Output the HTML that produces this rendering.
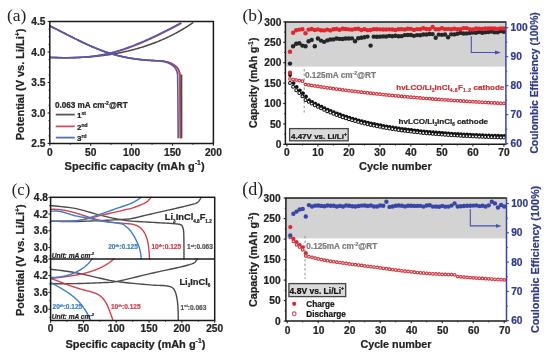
<!DOCTYPE html><html><head><meta charset="utf-8"><style>html,body{margin:0;padding:0;background:#fff;width:550px;height:356px;overflow:hidden}svg{display:block;filter:blur(0.3px)} text{paint-order:stroke}</style></head><body>
<svg width="550" height="356" viewBox="0 0 550 356">
<rect width="550" height="356" fill="#fff"/>
<text x="7.00" y="21.30" font-size="17.5" text-anchor="start" fill="#222" stroke="#222" stroke-width="0" font-weight="normal" font-family='"Liberation Serif", serif'>(a)</text>
<polyline points="49.81,57.34 50.56,57.37 51.30,57.41 52.05,57.44 52.80,57.47 53.55,57.51 54.30,57.53 55.05,57.56 55.80,57.59 56.55,57.61 57.30,57.63 58.05,57.65 58.80,57.67 59.55,57.69 60.30,57.70 61.05,57.72 61.81,57.73 62.56,57.74 63.31,57.75 64.06,57.75 64.81,57.76 65.57,57.76 66.32,57.76 67.07,57.76 67.82,57.76 68.57,57.76 69.33,57.75 70.08,57.74 70.83,57.73 71.59,57.72 72.34,57.71 73.09,57.69 73.84,57.68 74.60,57.66 75.35,57.64 76.10,57.62 76.86,57.59 77.61,57.57 78.36,57.54 79.12,57.51 79.87,57.48 80.62,57.44 81.37,57.41 82.13,57.37 82.88,57.33 83.63,57.29 84.38,57.25 85.14,57.20 85.89,57.15 86.64,57.11 87.39,57.05 88.14,57.00 88.90,56.95 89.65,56.89 90.40,56.83 91.15,56.77 91.90,56.70 92.65,56.64 93.40,56.57 94.15,56.50 94.90,56.43 95.65,56.36 96.40,56.28 97.15,56.20 97.90,56.12 98.65,56.04 99.40,55.96 100.14,55.87 100.89,55.78 101.64,55.69 102.39,55.60 103.13,55.51 103.88,55.41 104.63,55.31 105.37,55.21 106.12,55.11 106.86,55.00 107.61,54.89 108.35,54.78 109.10,54.67 109.84,54.55 110.58,54.44 111.33,54.32 112.07,54.20 112.81,54.07 113.55,53.95 114.29,53.82 115.03,53.69 115.77,53.56 116.51,53.42 117.25,53.28 117.99,53.14 118.73,53.00 119.46,52.86 120.20,52.71 120.94,52.56 121.67,52.41 122.41,52.26 123.14,52.10 123.88,51.94 124.61,51.78 125.34,51.62 126.07,51.45 126.81,51.28 127.54,51.11 128.27,50.94 129.00,50.77 129.73,50.59 130.45,50.41 131.18,50.22 131.91,50.04 132.64,49.85 133.36,49.66 134.09,49.47 134.81,49.27 135.53,49.08 136.26,48.88 136.98,48.67 137.70,48.47 138.42,48.26 139.14,48.05 139.86,47.84 140.58,47.62 141.29,47.40 142.01,47.18 142.73,46.96 143.44,46.73 144.15,46.50 144.87,46.27 145.58,46.04 146.29,45.80 147.00,45.56 147.71,45.32 148.42,45.08 149.13,44.83 149.83,44.58 150.54,44.33 151.25,44.08 151.95,43.82 152.65,43.56 153.36,43.30 154.06,43.03 154.76,42.76 155.46,42.49 156.15,42.22 156.85,41.94 157.55,41.66 158.24,41.38 158.94,41.10 159.63,40.81 160.32,40.52 161.01,40.23 161.70,39.93 162.39,39.64 163.08,39.33 163.77,39.03 164.45,38.72 165.14,38.42 165.82,38.10 166.50,37.79 167.19,37.47 167.87,37.15 168.55,36.83 169.22,36.50 169.90,36.17 170.58,35.84 171.25,35.51 171.92,35.17 172.59,34.83 173.27,34.49 173.93,34.14 174.60,33.79 175.27,33.44 175.94,33.08 176.60,32.73 177.26,32.37 177.93,32.00 178.59,31.64 179.25,31.27 179.90,30.89 180.56,30.52 181.22,30.14 181.87,29.76 182.52,29.38 183.17,28.99 183.82,28.60 184.47,28.21 185.12,27.81 185.77,27.41 186.41,27.01 187.05,26.60 187.69,26.20 188.33,25.78 188.97,25.37 189.61,24.95 190.25,24.53 190.88,24.11 191.51,23.68 192.15,23.25 192.78,22.82" fill="none" stroke="#4a4a4a" stroke-width="1.5" stroke-linejoin="round" stroke-linecap="round"/>
<polyline points="49.85,25.95 50.38,26.21 50.91,26.47 51.45,26.73 51.98,27.00 52.51,27.26 53.05,27.53 53.58,27.79 54.11,28.06 54.65,28.33 55.18,28.59 55.71,28.86 56.25,29.13 56.78,29.40 57.32,29.67 57.85,29.94 58.38,30.21 58.92,30.48 59.45,30.75 59.98,31.02 60.52,31.30 61.05,31.57 61.59,31.84 62.12,32.11 62.65,32.38 63.19,32.66 63.72,32.93 64.26,33.20 64.79,33.47 65.33,33.75 65.86,34.02 66.40,34.29 66.93,34.57 67.47,34.84 68.01,35.11 68.54,35.38 69.08,35.65 69.61,35.93 70.15,36.20 70.69,36.47 71.22,36.74 71.76,37.01 72.30,37.28 72.84,37.55 73.37,37.82 73.91,38.09 74.45,38.36 74.99,38.63 75.53,38.89 76.07,39.16 76.61,39.43 77.15,39.69 77.69,39.96 78.23,40.22 78.77,40.48 79.31,40.75 79.85,41.01 80.39,41.27 80.93,41.53 81.48,41.79 82.02,42.05 82.56,42.31 83.11,42.56 83.65,42.82 84.19,43.08 84.74,43.33 85.28,43.58 85.83,43.83 86.38,44.08 86.92,44.33 87.47,44.58 88.02,44.83 88.56,45.08 89.11,45.32 89.66,45.56 90.21,45.81 90.76,46.05 91.31,46.29 91.86,46.52 92.41,46.76 92.96,47.00 93.51,47.23 94.07,47.46 94.62,47.69 95.17,47.92 95.73,48.15 96.28,48.37 96.84,48.60 97.39,48.82 97.95,49.04 98.51,49.26 99.06,49.48 99.62,49.69 100.18,49.91 100.74,50.12 101.30,50.33 101.86,50.54 102.42,50.74 102.98,50.95 103.54,51.15 104.11,51.35 104.67,51.55 105.23,51.74 105.80,51.94 106.36,52.13 106.93,52.32 107.50,52.50 108.06,52.69 108.63,52.87 109.20,53.05 109.77,53.23 110.34,53.41 110.91,53.58 111.49,53.75 112.06,53.92 112.63,54.09 113.20,54.25 113.78,54.41 114.35,54.57 114.93,54.73 115.51,54.88 116.08,55.04 116.66,55.19 117.24,55.33 117.82,55.48 118.40,55.62 118.98,55.77 119.56,55.90 120.14,56.04 120.73,56.18 121.31,56.31 121.89,56.44 122.47,56.57 123.06,56.69 123.64,56.82 124.23,56.94 124.82,57.06 125.40,57.18 125.99,57.29 126.58,57.41 127.16,57.52 127.75,57.63 128.34,57.74 128.93,57.84 129.52,57.94 130.11,58.05 130.70,58.14 131.29,58.24 131.89,58.34 132.48,58.43 133.07,58.52 133.66,58.61 134.26,58.70 134.85,58.78 135.44,58.87 136.04,58.95 136.63,59.03 137.23,59.11 137.82,59.18 138.42,59.26 139.02,59.33 139.61,59.40 140.21,59.47 140.81,59.53 141.41,59.60 142.00,59.66 142.60,59.72 143.20,59.78 143.80,59.84 144.40,59.90 145.00,59.95 145.60,60.00 146.20,60.05 146.80,60.10 147.40,60.15 148.00,60.19 148.60,60.24 149.20,60.28 149.80,60.32 150.40,60.36 151.00,60.39 151.60,60.43 152.20,60.46 152.81,60.50 153.41,60.53 154.01,60.55 154.61,60.58 155.21,60.61 155.82,60.63 156.42,60.65 157.02,60.67 157.62,60.69 158.23,60.71 158.83,60.73 159.43,60.74 160.04,60.75 160.64,60.77 161.24,60.78 161.84,60.78 162.40,61.00 162.88,61.09 163.53,61.20 164.30,61.34 165.15,61.49 166.03,61.66 166.90,61.84 167.70,62.02 168.40,62.20 169.00,62.39 169.56,62.59 170.09,62.79 170.59,63.01 171.06,63.23 171.52,63.45 171.96,63.67 172.40,63.90 172.83,64.13 173.24,64.36 173.64,64.60 174.03,64.84 174.39,65.08 174.74,65.32 175.08,65.56 175.40,65.80 175.70,66.03 175.98,66.25 176.25,66.47 176.49,66.69 176.73,66.92 176.96,67.16 177.18,67.42 177.40,67.70 177.62,68.01 177.83,68.34 178.03,68.70 178.23,69.06 178.42,69.43 178.59,69.80 178.75,70.16 178.90,70.50 179.03,70.80 179.14,71.04 179.23,71.26 179.31,71.49 179.39,71.75 179.46,72.07 179.53,72.47 179.60,73.00 179.67,73.31 179.74,73.24 179.80,73.06 179.86,73.04 179.92,73.46 179.98,74.57 180.04,76.66 180.10,80.00 180.17,85.19 180.24,92.23 180.31,100.49 180.38,109.34 180.45,118.13 180.51,126.22 180.56,132.99 180.60,137.80" fill="none" stroke="#4a4a4a" stroke-width="1.5" stroke-linejoin="round" stroke-linecap="round"/>
<polyline points="181.60,75.30 181.60,137.80" fill="none" stroke="#4a4a4a" stroke-width="1.5" stroke-linejoin="round" stroke-linecap="round"/>
<polyline points="49.79,57.42 50.48,57.43 51.17,57.45 51.86,57.46 52.55,57.48 53.25,57.49 53.94,57.51 54.63,57.52 55.32,57.53 56.02,57.55 56.71,57.56 57.40,57.57 58.10,57.58 58.79,57.59 59.49,57.60 60.18,57.61 60.88,57.62 61.57,57.62 62.27,57.63 62.96,57.63 63.66,57.64 64.35,57.64 65.05,57.64 65.74,57.64 66.44,57.64 67.13,57.64 67.83,57.63 68.53,57.63 69.22,57.62 69.92,57.62 70.61,57.61 71.31,57.60 72.00,57.59 72.70,57.58 73.39,57.56 74.09,57.55 74.78,57.53 75.48,57.51 76.17,57.49 76.87,57.47 77.56,57.44 78.26,57.41 78.95,57.39 79.65,57.36 80.34,57.32 81.03,57.29 81.73,57.26 82.42,57.22 83.11,57.18 83.81,57.14 84.50,57.09 85.19,57.04 85.88,57.00 86.57,56.95 87.26,56.89 87.95,56.84 88.64,56.78 89.33,56.72 90.02,56.65 90.71,56.59 91.40,56.52 92.09,56.45 92.78,56.38 93.46,56.30 94.15,56.22 94.84,56.14 95.52,56.06 96.21,55.97 96.89,55.88 97.58,55.79 98.26,55.69 98.94,55.59 99.63,55.49 100.31,55.39 100.99,55.28 101.67,55.17 102.35,55.06 103.03,54.94 103.71,54.82 104.39,54.69 105.06,54.57 105.74,54.44 106.42,54.30 107.09,54.17 107.77,54.03 108.44,53.88 109.11,53.73 109.78,53.58 110.46,53.43 111.13,53.27 111.80,53.11 112.47,52.94 113.13,52.77 113.80,52.60 114.47,52.42 115.13,52.24 115.80,52.06 116.46,51.87 117.13,51.69 117.79,51.49 118.45,51.30 119.11,51.10 119.78,50.90 120.44,50.70 121.10,50.49 121.75,50.28 122.41,50.07 123.07,49.86 123.73,49.64 124.38,49.42 125.04,49.20 125.69,48.97 126.35,48.75 127.00,48.52 127.65,48.29 128.30,48.05 128.96,47.82 129.61,47.58 130.26,47.34 130.91,47.10 131.56,46.85 132.21,46.61 132.85,46.36 133.50,46.11 134.15,45.86 134.79,45.61 135.44,45.36 136.08,45.10 136.73,44.84 137.37,44.58 138.02,44.32 138.66,44.06 139.30,43.79 139.94,43.53 140.58,43.26 141.22,42.99 141.86,42.72 142.50,42.45 143.14,42.17 143.78,41.90 144.42,41.62 145.05,41.34 145.69,41.06 146.33,40.78 146.96,40.50 147.59,40.21 148.23,39.93 148.86,39.64 149.49,39.36 150.13,39.07 150.76,38.78 151.39,38.48 152.02,38.19 152.65,37.90 153.28,37.60 153.91,37.31 154.54,37.01 155.17,36.71 155.79,36.41 156.42,36.11 157.05,35.81 157.67,35.51 158.30,35.21 158.92,34.90 159.54,34.60 160.17,34.29 160.79,33.99 161.41,33.68 162.03,33.37 162.65,33.06 163.28,32.75 163.90,32.44 164.51,32.13 165.13,31.82 165.75,31.50 166.37,31.19 166.99,30.88 167.60,30.56 168.22,30.25 168.84,29.93 169.45,29.61 170.07,29.30 170.68,28.98 171.29,28.66 171.91,28.34 172.52,28.02 173.13,27.71 173.74,27.39 174.35,27.07 174.96,26.75 175.57,26.42 176.18,26.10 176.79,25.78 177.40,25.46 178.01,25.14 178.61,24.82 179.22,24.50 179.83,24.17 180.43,23.85 181.04,23.53" fill="none" stroke="#d8404a" stroke-width="1.5" stroke-linejoin="round" stroke-linecap="round"/>
<polyline points="49.84,25.95 50.38,26.21 50.91,26.47 51.44,26.73 51.97,27.00 52.50,27.26 53.04,27.52 53.57,27.79 54.10,28.05 54.63,28.32 55.16,28.58 55.70,28.85 56.23,29.12 56.76,29.39 57.29,29.65 57.82,29.92 58.36,30.19 58.89,30.46 59.42,30.73 59.95,31.00 60.49,31.27 61.02,31.54 61.55,31.81 62.08,32.09 62.62,32.36 63.15,32.63 63.68,32.90 64.21,33.17 64.75,33.44 65.28,33.72 65.81,33.99 66.35,34.26 66.88,34.53 67.41,34.80 67.95,35.07 68.48,35.34 69.02,35.62 69.55,35.89 70.09,36.16 70.62,36.43 71.16,36.70 71.69,36.97 72.23,37.24 72.76,37.51 73.30,37.78 73.84,38.04 74.37,38.31 74.91,38.58 75.45,38.85 75.98,39.11 76.52,39.38 77.06,39.64 77.60,39.91 78.14,40.17 78.67,40.43 79.21,40.70 79.75,40.96 80.29,41.22 80.83,41.48 81.37,41.74 81.91,42.00 82.45,42.25 83.00,42.51 83.54,42.77 84.08,43.02 84.62,43.27 85.17,43.53 85.71,43.78 86.25,44.03 86.80,44.28 87.34,44.53 87.89,44.77 88.43,45.02 88.98,45.26 89.53,45.51 90.07,45.75 90.62,45.99 91.17,46.23 91.72,46.47 92.27,46.70 92.81,46.94 93.36,47.17 93.92,47.41 94.47,47.64 95.02,47.87 95.57,48.09 96.12,48.32 96.67,48.54 97.23,48.77 97.78,48.99 98.34,49.21 98.89,49.42 99.45,49.64 100.00,49.85 100.56,50.07 101.12,50.28 101.68,50.48 102.24,50.69 102.80,50.90 103.36,51.10 103.92,51.30 104.48,51.50 105.04,51.69 105.60,51.89 106.17,52.08 106.73,52.27 107.29,52.46 107.86,52.64 108.43,52.83 108.99,53.01 109.56,53.19 110.13,53.36 110.70,53.54 111.27,53.71 111.84,53.88 112.41,54.05 112.98,54.21 113.55,54.37 114.12,54.53 114.70,54.69 115.27,54.85 115.85,55.00 116.42,55.15 117.00,55.30 117.58,55.45 118.15,55.59 118.73,55.73 119.31,55.87 119.89,56.01 120.47,56.15 121.05,56.28 121.63,56.41 122.21,56.54 122.79,56.67 123.38,56.79 123.96,56.92 124.54,57.04 125.13,57.16 125.71,57.27 126.30,57.39 126.88,57.50 127.47,57.61 128.06,57.72 128.64,57.83 129.23,57.93 129.82,58.03 130.41,58.13 131.00,58.23 131.59,58.33 132.18,58.42 132.77,58.51 133.36,58.60 133.95,58.69 134.54,58.78 135.13,58.86 135.73,58.94 136.32,59.02 136.91,59.10 137.51,59.18 138.10,59.25 138.69,59.33 139.29,59.40 139.88,59.47 140.48,59.53 141.07,59.60 141.67,59.66 142.26,59.72 142.86,59.78 143.46,59.84 144.05,59.90 144.65,59.95 145.25,60.00 145.85,60.05 146.44,60.10 147.04,60.15 147.64,60.20 148.24,60.24 148.84,60.28 149.44,60.32 150.04,60.36 150.64,60.40 151.24,60.43 151.84,60.47 152.43,60.50 153.03,60.53 153.64,60.56 154.24,60.59 154.84,60.61 155.44,60.63 156.04,60.66 156.64,60.68 157.24,60.70 157.84,60.71 158.44,60.73 159.04,60.74 159.64,60.76 160.24,60.77 160.85,60.78 161.45,60.78 162.00,61.00 162.48,61.09 163.12,61.20 163.90,61.34 164.75,61.49 165.63,61.66 166.50,61.84 167.30,62.02 168.00,62.20 168.60,62.39 169.16,62.59 169.69,62.79 170.19,63.01 170.66,63.23 171.12,63.45 171.56,63.67 172.00,63.90 172.43,64.13 172.84,64.36 173.24,64.60 173.62,64.84 173.99,65.08 174.34,65.32 174.68,65.56 175.00,65.80 175.30,66.03 175.58,66.25 175.85,66.47 176.09,66.69 176.33,66.92 176.56,67.16 176.78,67.42 177.00,67.70 177.22,68.01 177.43,68.34 177.63,68.70 177.83,69.06 178.02,69.43 178.19,69.80 178.35,70.16 178.50,70.50 178.63,70.80 178.74,71.04 178.83,71.26 178.91,71.49 178.99,71.75 179.06,72.07 179.13,72.47 179.20,73.00 179.27,73.31 179.34,73.24 179.40,73.06 179.46,73.04 179.52,73.46 179.58,74.57 179.64,76.66 179.70,80.00 179.77,85.19 179.84,92.23 179.91,100.49 179.98,109.34 180.05,118.13 180.11,126.22 180.16,132.99 180.20,137.80" fill="none" stroke="#d8404a" stroke-width="1.5" stroke-linejoin="round" stroke-linecap="round"/>
<polyline points="49.78,57.39 50.47,57.42 51.16,57.44 51.85,57.47 52.55,57.50 53.24,57.52 53.93,57.55 54.62,57.57 55.31,57.59 56.00,57.61 56.70,57.63 57.39,57.65 58.08,57.67 58.77,57.68 59.47,57.70 60.16,57.71 60.85,57.72 61.55,57.73 62.24,57.74 62.93,57.75 63.62,57.75 64.32,57.76 65.01,57.76 65.70,57.76 66.40,57.76 67.09,57.75 67.78,57.75 68.47,57.74 69.17,57.74 69.86,57.73 70.55,57.72 71.24,57.70 71.94,57.69 72.63,57.67 73.32,57.65 74.01,57.63 74.70,57.61 75.39,57.58 76.08,57.56 76.78,57.53 77.47,57.50 78.16,57.47 78.85,57.43 79.54,57.39 80.23,57.35 80.92,57.31 81.61,57.27 82.30,57.22 82.98,57.18 83.67,57.12 84.36,57.07 85.05,57.02 85.74,56.96 86.42,56.90 87.11,56.84 87.80,56.77 88.48,56.70 89.17,56.63 89.85,56.56 90.54,56.49 91.22,56.41 91.90,56.33 92.59,56.24 93.27,56.16 93.95,56.07 94.64,55.98 95.32,55.89 96.00,55.79 96.68,55.69 97.36,55.59 98.04,55.48 98.72,55.37 99.39,55.26 100.07,55.15 100.75,55.03 101.42,54.91 102.10,54.79 102.78,54.66 103.45,54.53 104.12,54.40 104.80,54.26 105.47,54.12 106.14,53.98 106.81,53.83 107.48,53.68 108.15,53.53 108.82,53.38 109.49,53.22 110.16,53.06 110.82,52.89 111.49,52.72 112.16,52.55 112.82,52.37 113.48,52.20 114.15,52.01 114.81,51.83 115.47,51.64 116.13,51.45 116.79,51.26 117.45,51.06 118.11,50.86 118.77,50.66 119.43,50.46 120.08,50.25 120.74,50.04 121.40,49.83 122.05,49.61 122.71,49.40 123.36,49.18 124.01,48.96 124.66,48.73 125.32,48.51 125.97,48.28 126.62,48.05 127.27,47.81 127.92,47.58 128.57,47.34 129.21,47.10 129.86,46.86 130.51,46.62 131.15,46.38 131.80,46.13 132.45,45.88 133.09,45.63 133.73,45.38 134.38,45.13 135.02,44.87 135.66,44.62 136.30,44.36 136.95,44.10 137.59,43.84 138.23,43.57 138.86,43.31 139.50,43.04 140.14,42.78 140.78,42.51 141.42,42.24 142.05,41.97 142.69,41.69 143.32,41.42 143.96,41.14 144.59,40.86 145.23,40.58 145.86,40.30 146.49,40.02 147.12,39.74 147.76,39.46 148.39,39.17 149.02,38.88 149.65,38.60 150.28,38.31 150.91,38.02 151.53,37.73 152.16,37.43 152.79,37.14 153.41,36.84 154.04,36.55 154.67,36.25 155.29,35.95 155.91,35.66 156.54,35.36 157.16,35.06 157.78,34.75 158.41,34.45 159.03,34.15 159.65,33.84 160.27,33.54 160.89,33.23 161.51,32.93 162.13,32.62 162.74,32.31 163.36,32.00 163.98,31.69 164.59,31.38 165.21,31.07 165.83,30.76 166.44,30.45 167.06,30.13 167.67,29.82 168.28,29.50 168.90,29.19 169.51,28.87 170.12,28.56 170.73,28.24 171.34,27.93 171.95,27.61 172.56,27.29 173.17,26.97 173.78,26.65 174.39,26.34 174.99,26.02 175.60,25.70 176.21,25.38 176.81,25.06 177.42,24.74 178.02,24.42 178.63,24.10 179.23,23.77 179.83,23.45 180.44,23.13" fill="none" stroke="#4a5cb8" stroke-width="1.6" stroke-linejoin="round" stroke-linecap="round"/>
<polyline points="49.84,25.97 50.36,26.22 50.89,26.48 51.41,26.73 51.93,26.99 52.46,27.24 52.98,27.50 53.51,27.76 54.03,28.01 54.56,28.27 55.08,28.53 55.60,28.79 56.13,29.05 56.65,29.31 57.18,29.58 57.70,29.84 58.22,30.10 58.75,30.36 59.27,30.63 59.80,30.89 60.32,31.16 60.84,31.42 61.37,31.69 61.89,31.95 62.42,32.22 62.94,32.48 63.47,32.75 63.99,33.02 64.51,33.28 65.04,33.55 65.56,33.82 66.09,34.08 66.61,34.35 67.14,34.62 67.66,34.89 68.19,35.15 68.71,35.42 69.24,35.69 69.77,35.95 70.29,36.22 70.82,36.49 71.34,36.75 71.87,37.02 72.40,37.28 72.92,37.55 73.45,37.81 73.98,38.08 74.51,38.34 75.03,38.61 75.56,38.87 76.09,39.13 76.62,39.39 77.15,39.66 77.68,39.92 78.20,40.18 78.73,40.44 79.26,40.70 79.79,40.96 80.32,41.21 80.85,41.47 81.39,41.73 81.92,41.98 82.45,42.24 82.98,42.49 83.51,42.75 84.05,43.00 84.58,43.25 85.11,43.50 85.65,43.75 86.18,44.00 86.71,44.25 87.25,44.49 87.78,44.74 88.32,44.98 88.86,45.22 89.39,45.47 89.93,45.71 90.47,45.95 91.01,46.18 91.54,46.42 92.08,46.66 92.62,46.89 93.16,47.12 93.70,47.35 94.24,47.58 94.78,47.81 95.33,48.04 95.87,48.27 96.41,48.49 96.95,48.71 97.50,48.93 98.04,49.15 98.59,49.37 99.13,49.58 99.68,49.80 100.23,50.01 100.77,50.22 101.32,50.43 101.87,50.64 102.42,50.84 102.97,51.04 103.52,51.24 104.07,51.44 104.62,51.64 105.17,51.84 105.73,52.03 106.28,52.22 106.83,52.41 107.39,52.59 107.94,52.78 108.50,52.96 109.06,53.14 109.61,53.32 110.17,53.50 110.73,53.67 111.29,53.84 111.85,54.01 112.41,54.18 112.97,54.34 113.54,54.50 114.10,54.66 114.66,54.82 115.23,54.98 115.79,55.13 116.36,55.28 116.92,55.43 117.49,55.58 118.06,55.72 118.63,55.86 119.19,56.00 119.76,56.14 120.33,56.28 120.90,56.41 121.47,56.54 122.05,56.67 122.62,56.80 123.19,56.92 123.76,57.05 124.34,57.17 124.91,57.29 125.49,57.40 126.06,57.52 126.64,57.63 127.21,57.74 127.79,57.85 128.37,57.95 128.94,58.06 129.52,58.16 130.10,58.26 130.68,58.36 131.26,58.46 131.84,58.55 132.42,58.64 133.00,58.73 133.58,58.82 134.16,58.91 134.74,58.99 135.33,59.07 135.91,59.15 136.49,59.23 137.08,59.30 137.66,59.38 138.24,59.45 138.83,59.52 139.41,59.59 140.00,59.66 140.58,59.72 141.17,59.78 141.76,59.84 142.34,59.90 142.93,59.96 143.52,60.01 144.10,60.06 144.69,60.12 145.28,60.16 145.87,60.21 146.46,60.26 147.05,60.30 147.64,60.34 148.22,60.38 148.81,60.42 149.40,60.45 149.99,60.49 150.58,60.52 151.17,60.55 151.77,60.58 152.36,60.61 152.95,60.63 153.54,60.65 154.13,60.68 154.72,60.70 155.31,60.71 155.90,60.73 156.50,60.74 157.09,60.76 157.68,60.77 158.27,60.78 158.87,60.78 159.46,60.79 160.00,61.00 160.48,61.09 161.12,61.20 161.90,61.34 162.75,61.49 163.63,61.66 164.50,61.84 165.30,62.02 166.00,62.20 166.60,62.39 167.16,62.59 167.69,62.79 168.19,63.01 168.66,63.23 169.12,63.45 169.56,63.67 170.00,63.90 170.43,64.13 170.84,64.36 171.24,64.60 171.62,64.84 171.99,65.08 172.34,65.32 172.68,65.56 173.00,65.80 173.30,66.03 173.58,66.25 173.85,66.47 174.09,66.69 174.33,66.92 174.56,67.16 174.78,67.42 175.00,67.70 175.22,68.01 175.43,68.34 175.63,68.70 175.83,69.06 176.02,69.43 176.19,69.80 176.35,70.16 176.50,70.50 176.63,70.80 176.74,71.04 176.83,71.26 176.91,71.49 176.99,71.75 177.06,72.07 177.13,72.47 177.20,73.00 177.27,73.31 177.34,73.24 177.40,73.06 177.46,73.04 177.52,73.46 177.58,74.57 177.64,76.66 177.70,80.00 177.77,85.19 177.84,92.23 177.91,100.49 177.98,109.34 178.05,118.13 178.11,126.22 178.16,132.99 178.20,137.80" fill="none" stroke="#4a5cb8" stroke-width="1.6" stroke-linejoin="round" stroke-linecap="round"/>
<rect x="49.8" y="21.5" width="163.60000000000002" height="122.0" fill="none" stroke="#1a1a1a" stroke-width="1.5"/>
<line x1="47.60" y1="143.50" x2="49.80" y2="143.50" stroke="#222" stroke-width="1.1"/>
<text x="45.40" y="147.10" font-size="10.2" text-anchor="end" fill="#222" stroke="#222" stroke-width="0.22" font-weight="bold" font-family='"Liberation Sans", sans-serif'>2.5</text>
<line x1="47.60" y1="113.00" x2="49.80" y2="113.00" stroke="#222" stroke-width="1.1"/>
<text x="45.40" y="116.60" font-size="10.2" text-anchor="end" fill="#222" stroke="#222" stroke-width="0.22" font-weight="bold" font-family='"Liberation Sans", sans-serif'>3.0</text>
<line x1="47.60" y1="82.50" x2="49.80" y2="82.50" stroke="#222" stroke-width="1.1"/>
<text x="45.40" y="86.10" font-size="10.2" text-anchor="end" fill="#222" stroke="#222" stroke-width="0.22" font-weight="bold" font-family='"Liberation Sans", sans-serif'>3.5</text>
<line x1="47.60" y1="52.00" x2="49.80" y2="52.00" stroke="#222" stroke-width="1.1"/>
<text x="45.40" y="55.60" font-size="10.2" text-anchor="end" fill="#222" stroke="#222" stroke-width="0.22" font-weight="bold" font-family='"Liberation Sans", sans-serif'>4.0</text>
<line x1="47.60" y1="21.50" x2="49.80" y2="21.50" stroke="#222" stroke-width="1.1"/>
<text x="45.40" y="25.10" font-size="10.2" text-anchor="end" fill="#222" stroke="#222" stroke-width="0.22" font-weight="bold" font-family='"Liberation Sans", sans-serif'>4.5</text>
<line x1="48.50" y1="135.88" x2="49.80" y2="135.88" stroke="#222" stroke-width="0.9"/>
<line x1="48.50" y1="128.25" x2="49.80" y2="128.25" stroke="#222" stroke-width="0.9"/>
<line x1="48.50" y1="120.62" x2="49.80" y2="120.62" stroke="#222" stroke-width="0.9"/>
<line x1="48.50" y1="105.38" x2="49.80" y2="105.38" stroke="#222" stroke-width="0.9"/>
<line x1="48.50" y1="97.75" x2="49.80" y2="97.75" stroke="#222" stroke-width="0.9"/>
<line x1="48.50" y1="90.12" x2="49.80" y2="90.12" stroke="#222" stroke-width="0.9"/>
<line x1="48.50" y1="74.88" x2="49.80" y2="74.88" stroke="#222" stroke-width="0.9"/>
<line x1="48.50" y1="67.25" x2="49.80" y2="67.25" stroke="#222" stroke-width="0.9"/>
<line x1="48.50" y1="59.62" x2="49.80" y2="59.62" stroke="#222" stroke-width="0.9"/>
<line x1="48.50" y1="44.38" x2="49.80" y2="44.38" stroke="#222" stroke-width="0.9"/>
<line x1="48.50" y1="36.75" x2="49.80" y2="36.75" stroke="#222" stroke-width="0.9"/>
<line x1="48.50" y1="29.12" x2="49.80" y2="29.12" stroke="#222" stroke-width="0.9"/>
<line x1="49.80" y1="143.50" x2="49.80" y2="145.70" stroke="#222" stroke-width="1.1"/>
<text x="49.80" y="155.60" font-size="10.2" text-anchor="middle" fill="#222" stroke="#222" stroke-width="0.22" font-weight="bold" font-family='"Liberation Sans", sans-serif'>0</text>
<line x1="90.70" y1="143.50" x2="90.70" y2="145.70" stroke="#222" stroke-width="1.1"/>
<text x="90.70" y="155.60" font-size="10.2" text-anchor="middle" fill="#222" stroke="#222" stroke-width="0.22" font-weight="bold" font-family='"Liberation Sans", sans-serif'>50</text>
<line x1="131.60" y1="143.50" x2="131.60" y2="145.70" stroke="#222" stroke-width="1.1"/>
<text x="131.60" y="155.60" font-size="10.2" text-anchor="middle" fill="#222" stroke="#222" stroke-width="0.22" font-weight="bold" font-family='"Liberation Sans", sans-serif'>100</text>
<line x1="172.50" y1="143.50" x2="172.50" y2="145.70" stroke="#222" stroke-width="1.1"/>
<text x="172.50" y="155.60" font-size="10.2" text-anchor="middle" fill="#222" stroke="#222" stroke-width="0.22" font-weight="bold" font-family='"Liberation Sans", sans-serif'>150</text>
<line x1="213.40" y1="143.50" x2="213.40" y2="145.70" stroke="#222" stroke-width="1.1"/>
<text x="213.40" y="155.60" font-size="10.2" text-anchor="middle" fill="#222" stroke="#222" stroke-width="0.22" font-weight="bold" font-family='"Liberation Sans", sans-serif'>200</text>
<line x1="70.25" y1="143.50" x2="70.25" y2="144.80" stroke="#222" stroke-width="0.9"/>
<line x1="111.15" y1="143.50" x2="111.15" y2="144.80" stroke="#222" stroke-width="0.9"/>
<line x1="152.05" y1="143.50" x2="152.05" y2="144.80" stroke="#222" stroke-width="0.9"/>
<line x1="192.95" y1="143.50" x2="192.95" y2="144.80" stroke="#222" stroke-width="0.9"/>
<text x="64.60" y="169.50" font-size="11.0" text-anchor="start" fill="#222" stroke="#222" stroke-width="0.22" font-weight="bold" font-family='"Liberation Sans", sans-serif'>Specific capacity (mAh g<tspan font-size="6.82" dy="-4.18">-1</tspan><tspan dy="4.18">&#8203;</tspan>)</text>
<text x="24.00" y="140.20" font-size="10.95" text-anchor="start" fill="#222" stroke="#222" stroke-width="0.22" font-weight="bold" font-family='"Liberation Sans", sans-serif' transform="rotate(-90 24.00 140.20)">Potential (V vs. Li/Li<tspan font-size="6.82" dy="-4.18">+</tspan><tspan dy="4.18">&#8203;</tspan>)</text>
<text x="55.00" y="108.00" font-size="8.15" text-anchor="start" fill="#222" stroke="#222" stroke-width="0.22" font-weight="bold" font-family='"Liberation Sans", sans-serif'>0.063 mA cm<tspan font-size="5.05" dy="-3.10">-2</tspan><tspan dy="3.10">&#8203;</tspan>@RT</text>
<line x1="55.80" y1="114.60" x2="74.70" y2="114.60" stroke="#555" stroke-width="1.8"/>
<line x1="55.80" y1="126.40" x2="74.70" y2="126.40" stroke="#d05060" stroke-width="1.8"/>
<line x1="55.80" y1="137.60" x2="74.70" y2="137.60" stroke="#5070b8" stroke-width="1.8"/>
<text x="77.00" y="117.80" font-size="8.0" text-anchor="start" fill="#222" stroke="#222" stroke-width="0.22" font-weight="bold" font-family='"Liberation Sans", sans-serif'>1<tspan font-size="4.96" dy="-3.04">st</tspan><tspan dy="3.04">&#8203;</tspan></text>
<text x="77.00" y="129.60" font-size="8.0" text-anchor="start" fill="#222" stroke="#222" stroke-width="0.22" font-weight="bold" font-family='"Liberation Sans", sans-serif'>2<tspan font-size="4.96" dy="-3.04">nd</tspan><tspan dy="3.04">&#8203;</tspan></text>
<text x="77.00" y="141.20" font-size="8.0" text-anchor="start" fill="#222" stroke="#222" stroke-width="0.22" font-weight="bold" font-family='"Liberation Sans", sans-serif'>3<tspan font-size="4.96" dy="-3.04">rd</tspan><tspan dy="3.04">&#8203;</tspan></text>
<text x="242.50" y="21.10" font-size="17.5" text-anchor="start" fill="#222" stroke="#222" stroke-width="0" font-weight="normal" font-family='"Liberation Serif", serif'>(b)</text>
<rect x="285.4" y="21.9" width="220.5" height="44.699999999999996" fill="#d3d3d3"/>
<circle cx="290.00" cy="63.60" r="2.2" fill="#262626"/>
<circle cx="293.10" cy="46.20" r="2.2" fill="#262626"/>
<circle cx="296.20" cy="43.80" r="2.2" fill="#262626"/>
<circle cx="299.30" cy="43.20" r="2.2" fill="#262626"/>
<circle cx="302.40" cy="45.60" r="2.2" fill="#262626"/>
<circle cx="305.50" cy="46.20" r="2.2" fill="#262626"/>
<circle cx="308.60" cy="41.32" r="2.2" fill="#262626"/>
<circle cx="311.70" cy="39.90" r="2.2" fill="#262626"/>
<circle cx="314.80" cy="46.20" r="2.2" fill="#262626"/>
<circle cx="317.90" cy="38.48" r="2.2" fill="#262626"/>
<circle cx="321.00" cy="40.59" r="2.2" fill="#262626"/>
<circle cx="324.10" cy="41.86" r="2.2" fill="#262626"/>
<circle cx="327.20" cy="40.40" r="2.2" fill="#262626"/>
<circle cx="330.30" cy="39.47" r="2.2" fill="#262626"/>
<circle cx="333.40" cy="39.41" r="2.2" fill="#262626"/>
<circle cx="336.50" cy="38.57" r="2.2" fill="#262626"/>
<circle cx="339.60" cy="38.89" r="2.2" fill="#262626"/>
<circle cx="342.70" cy="38.97" r="2.2" fill="#262626"/>
<circle cx="345.80" cy="38.43" r="2.2" fill="#262626"/>
<circle cx="348.90" cy="38.56" r="2.2" fill="#262626"/>
<circle cx="352.00" cy="38.34" r="2.2" fill="#262626"/>
<circle cx="355.10" cy="41.30" r="2.2" fill="#262626"/>
<circle cx="358.20" cy="38.18" r="2.2" fill="#262626"/>
<circle cx="361.30" cy="37.79" r="2.2" fill="#262626"/>
<circle cx="364.40" cy="37.19" r="2.2" fill="#262626"/>
<circle cx="367.50" cy="36.62" r="2.2" fill="#262626"/>
<circle cx="370.60" cy="45.60" r="2.2" fill="#262626"/>
<circle cx="373.70" cy="36.66" r="2.2" fill="#262626"/>
<circle cx="376.80" cy="36.71" r="2.2" fill="#262626"/>
<circle cx="379.90" cy="36.65" r="2.2" fill="#262626"/>
<circle cx="383.00" cy="36.39" r="2.2" fill="#262626"/>
<circle cx="386.10" cy="36.57" r="2.2" fill="#262626"/>
<circle cx="389.20" cy="35.87" r="2.2" fill="#262626"/>
<circle cx="392.30" cy="36.29" r="2.2" fill="#262626"/>
<circle cx="395.40" cy="35.80" r="2.2" fill="#262626"/>
<circle cx="398.50" cy="36.32" r="2.2" fill="#262626"/>
<circle cx="401.60" cy="36.15" r="2.2" fill="#262626"/>
<circle cx="404.70" cy="35.12" r="2.2" fill="#262626"/>
<circle cx="407.80" cy="35.06" r="2.2" fill="#262626"/>
<circle cx="410.90" cy="35.06" r="2.2" fill="#262626"/>
<circle cx="414.00" cy="35.86" r="2.2" fill="#262626"/>
<circle cx="417.10" cy="35.12" r="2.2" fill="#262626"/>
<circle cx="420.20" cy="35.25" r="2.2" fill="#262626"/>
<circle cx="423.30" cy="34.56" r="2.2" fill="#262626"/>
<circle cx="426.40" cy="34.51" r="2.2" fill="#262626"/>
<circle cx="429.50" cy="34.06" r="2.2" fill="#262626"/>
<circle cx="432.60" cy="34.12" r="2.2" fill="#262626"/>
<circle cx="435.70" cy="37.80" r="2.2" fill="#262626"/>
<circle cx="438.80" cy="34.60" r="2.2" fill="#262626"/>
<circle cx="441.90" cy="34.85" r="2.2" fill="#262626"/>
<circle cx="445.00" cy="34.44" r="2.2" fill="#262626"/>
<circle cx="448.10" cy="37.30" r="2.2" fill="#262626"/>
<circle cx="451.20" cy="34.37" r="2.2" fill="#262626"/>
<circle cx="454.30" cy="34.39" r="2.2" fill="#262626"/>
<circle cx="457.40" cy="33.77" r="2.2" fill="#262626"/>
<circle cx="460.50" cy="32.92" r="2.2" fill="#262626"/>
<circle cx="463.60" cy="33.51" r="2.2" fill="#262626"/>
<circle cx="466.70" cy="33.40" r="2.2" fill="#262626"/>
<circle cx="469.80" cy="33.09" r="2.2" fill="#262626"/>
<circle cx="472.90" cy="32.62" r="2.2" fill="#262626"/>
<circle cx="476.00" cy="32.72" r="2.2" fill="#262626"/>
<circle cx="479.10" cy="32.05" r="2.2" fill="#262626"/>
<circle cx="482.20" cy="32.73" r="2.2" fill="#262626"/>
<circle cx="485.30" cy="32.35" r="2.2" fill="#262626"/>
<circle cx="488.40" cy="31.94" r="2.2" fill="#262626"/>
<circle cx="491.50" cy="31.54" r="2.2" fill="#262626"/>
<circle cx="494.60" cy="32.34" r="2.2" fill="#262626"/>
<circle cx="497.70" cy="32.37" r="2.2" fill="#262626"/>
<circle cx="500.80" cy="31.15" r="2.2" fill="#262626"/>
<circle cx="503.90" cy="31.86" r="2.2" fill="#262626"/>
<circle cx="290.00" cy="51.80" r="2.2" fill="#e3262b"/>
<circle cx="293.10" cy="32.70" r="2.2" fill="#e3262b"/>
<circle cx="296.20" cy="30.20" r="2.2" fill="#e3262b"/>
<circle cx="299.30" cy="29.60" r="2.2" fill="#e3262b"/>
<circle cx="302.40" cy="29.20" r="2.2" fill="#e3262b"/>
<circle cx="305.50" cy="33.30" r="2.2" fill="#e3262b"/>
<circle cx="308.60" cy="29.60" r="2.2" fill="#e3262b"/>
<circle cx="311.70" cy="28.97" r="2.2" fill="#e3262b"/>
<circle cx="314.80" cy="30.03" r="2.2" fill="#e3262b"/>
<circle cx="317.90" cy="29.40" r="2.2" fill="#e3262b"/>
<circle cx="321.00" cy="30.26" r="2.2" fill="#e3262b"/>
<circle cx="324.10" cy="30.40" r="2.2" fill="#e3262b"/>
<circle cx="327.20" cy="29.62" r="2.2" fill="#e3262b"/>
<circle cx="330.30" cy="30.40" r="2.2" fill="#e3262b"/>
<circle cx="333.40" cy="29.28" r="2.2" fill="#e3262b"/>
<circle cx="336.50" cy="28.89" r="2.2" fill="#e3262b"/>
<circle cx="339.60" cy="29.71" r="2.2" fill="#e3262b"/>
<circle cx="342.70" cy="28.78" r="2.2" fill="#e3262b"/>
<circle cx="345.80" cy="29.03" r="2.2" fill="#e3262b"/>
<circle cx="348.90" cy="29.35" r="2.2" fill="#e3262b"/>
<circle cx="352.00" cy="29.66" r="2.2" fill="#e3262b"/>
<circle cx="355.10" cy="28.91" r="2.2" fill="#e3262b"/>
<circle cx="358.20" cy="28.71" r="2.2" fill="#e3262b"/>
<circle cx="361.30" cy="30.02" r="2.2" fill="#e3262b"/>
<circle cx="364.40" cy="29.11" r="2.2" fill="#e3262b"/>
<circle cx="367.50" cy="30.13" r="2.2" fill="#e3262b"/>
<circle cx="370.60" cy="30.01" r="2.2" fill="#e3262b"/>
<circle cx="373.70" cy="29.16" r="2.2" fill="#e3262b"/>
<circle cx="376.80" cy="29.28" r="2.2" fill="#e3262b"/>
<circle cx="379.90" cy="29.36" r="2.2" fill="#e3262b"/>
<circle cx="383.00" cy="29.54" r="2.2" fill="#e3262b"/>
<circle cx="386.10" cy="29.45" r="2.2" fill="#e3262b"/>
<circle cx="389.20" cy="29.37" r="2.2" fill="#e3262b"/>
<circle cx="392.30" cy="29.45" r="2.2" fill="#e3262b"/>
<circle cx="395.40" cy="29.95" r="2.2" fill="#e3262b"/>
<circle cx="398.50" cy="29.24" r="2.2" fill="#e3262b"/>
<circle cx="401.60" cy="29.10" r="2.2" fill="#e3262b"/>
<circle cx="404.70" cy="29.54" r="2.2" fill="#e3262b"/>
<circle cx="407.80" cy="28.75" r="2.2" fill="#e3262b"/>
<circle cx="410.90" cy="28.84" r="2.2" fill="#e3262b"/>
<circle cx="414.00" cy="29.90" r="2.2" fill="#e3262b"/>
<circle cx="417.10" cy="29.16" r="2.2" fill="#e3262b"/>
<circle cx="420.20" cy="29.18" r="2.2" fill="#e3262b"/>
<circle cx="423.30" cy="28.31" r="2.2" fill="#e3262b"/>
<circle cx="426.40" cy="28.94" r="2.2" fill="#e3262b"/>
<circle cx="429.50" cy="29.18" r="2.2" fill="#e3262b"/>
<circle cx="432.60" cy="26.90" r="2.2" fill="#e3262b"/>
<circle cx="435.70" cy="29.21" r="2.2" fill="#e3262b"/>
<circle cx="438.80" cy="29.21" r="2.2" fill="#e3262b"/>
<circle cx="441.90" cy="28.28" r="2.2" fill="#e3262b"/>
<circle cx="445.00" cy="29.17" r="2.2" fill="#e3262b"/>
<circle cx="448.10" cy="28.90" r="2.2" fill="#e3262b"/>
<circle cx="451.20" cy="29.22" r="2.2" fill="#e3262b"/>
<circle cx="454.30" cy="28.68" r="2.2" fill="#e3262b"/>
<circle cx="457.40" cy="29.23" r="2.2" fill="#e3262b"/>
<circle cx="460.50" cy="29.26" r="2.2" fill="#e3262b"/>
<circle cx="463.60" cy="28.10" r="2.2" fill="#e3262b"/>
<circle cx="466.70" cy="28.15" r="2.2" fill="#e3262b"/>
<circle cx="469.80" cy="29.11" r="2.2" fill="#e3262b"/>
<circle cx="472.90" cy="29.56" r="2.2" fill="#e3262b"/>
<circle cx="476.00" cy="28.40" r="2.2" fill="#e3262b"/>
<circle cx="479.10" cy="28.71" r="2.2" fill="#e3262b"/>
<circle cx="482.20" cy="28.91" r="2.2" fill="#e3262b"/>
<circle cx="485.30" cy="28.46" r="2.2" fill="#e3262b"/>
<circle cx="488.40" cy="28.51" r="2.2" fill="#e3262b"/>
<circle cx="491.50" cy="28.41" r="2.2" fill="#e3262b"/>
<circle cx="494.60" cy="28.49" r="2.2" fill="#e3262b"/>
<circle cx="497.70" cy="28.83" r="2.2" fill="#e3262b"/>
<circle cx="500.80" cy="28.34" r="2.2" fill="#e3262b"/>
<circle cx="503.90" cy="28.45" r="2.2" fill="#e3262b"/>
<line x1="304.20" y1="69.00" x2="304.20" y2="112.50" stroke="#8c8c8c" stroke-width="1.0" stroke-dasharray="2.4,2.2"/>
<circle cx="290.00" cy="75.0" r="1.9" fill="#111"/>
<circle cx="293.60" cy="83.10" r="1.9" fill="#111"/>
<circle cx="296.70" cy="86.97" r="1.9" fill="#111"/>
<circle cx="299.80" cy="90.40" r="1.9" fill="#111"/>
<circle cx="302.90" cy="93.21" r="1.9" fill="#111"/>
<circle cx="306.00" cy="96.52" r="1.9" fill="#111"/>
<circle cx="309.10" cy="100.23" r="1.9" fill="#111"/>
<circle cx="312.20" cy="102.01" r="1.9" fill="#111"/>
<circle cx="315.30" cy="103.67" r="1.9" fill="#111"/>
<circle cx="318.40" cy="105.26" r="1.9" fill="#111"/>
<circle cx="321.50" cy="106.77" r="1.9" fill="#111"/>
<circle cx="324.60" cy="108.22" r="1.9" fill="#111"/>
<circle cx="327.70" cy="109.59" r="1.9" fill="#111"/>
<circle cx="330.80" cy="110.90" r="1.9" fill="#111"/>
<circle cx="333.90" cy="112.16" r="1.9" fill="#111"/>
<circle cx="337.00" cy="113.35" r="1.9" fill="#111"/>
<circle cx="340.10" cy="114.49" r="1.9" fill="#111"/>
<circle cx="343.20" cy="115.57" r="1.9" fill="#111"/>
<circle cx="346.30" cy="116.60" r="1.9" fill="#111"/>
<circle cx="349.40" cy="117.59" r="1.9" fill="#111"/>
<circle cx="352.50" cy="118.53" r="1.9" fill="#111"/>
<circle cx="355.60" cy="119.43" r="1.9" fill="#111"/>
<circle cx="358.70" cy="120.28" r="1.9" fill="#111"/>
<circle cx="361.80" cy="121.10" r="1.9" fill="#111"/>
<circle cx="364.90" cy="121.87" r="1.9" fill="#111"/>
<circle cx="368.00" cy="122.61" r="1.9" fill="#111"/>
<circle cx="371.10" cy="123.32" r="1.9" fill="#111"/>
<circle cx="374.20" cy="123.99" r="1.9" fill="#111"/>
<circle cx="377.30" cy="124.64" r="1.9" fill="#111"/>
<circle cx="380.40" cy="125.25" r="1.9" fill="#111"/>
<circle cx="383.50" cy="125.83" r="1.9" fill="#111"/>
<circle cx="386.60" cy="126.39" r="1.9" fill="#111"/>
<circle cx="389.70" cy="126.92" r="1.9" fill="#111"/>
<circle cx="392.80" cy="127.43" r="1.9" fill="#111"/>
<circle cx="395.90" cy="127.91" r="1.9" fill="#111"/>
<circle cx="399.00" cy="128.37" r="1.9" fill="#111"/>
<circle cx="402.10" cy="128.81" r="1.9" fill="#111"/>
<circle cx="405.20" cy="129.23" r="1.9" fill="#111"/>
<circle cx="408.30" cy="129.62" r="1.9" fill="#111"/>
<circle cx="411.40" cy="130.00" r="1.9" fill="#111"/>
<circle cx="414.50" cy="130.37" r="1.9" fill="#111"/>
<circle cx="417.60" cy="130.71" r="1.9" fill="#111"/>
<circle cx="420.70" cy="131.04" r="1.9" fill="#111"/>
<circle cx="423.80" cy="131.36" r="1.9" fill="#111"/>
<circle cx="426.90" cy="131.66" r="1.9" fill="#111"/>
<circle cx="430.00" cy="131.94" r="1.9" fill="#111"/>
<circle cx="433.10" cy="132.22" r="1.9" fill="#111"/>
<circle cx="436.20" cy="132.48" r="1.9" fill="#111"/>
<circle cx="439.30" cy="132.72" r="1.9" fill="#111"/>
<circle cx="442.40" cy="132.96" r="1.9" fill="#111"/>
<circle cx="445.50" cy="133.18" r="1.9" fill="#111"/>
<circle cx="448.60" cy="133.40" r="1.9" fill="#111"/>
<circle cx="451.70" cy="133.60" r="1.9" fill="#111"/>
<circle cx="454.80" cy="133.80" r="1.9" fill="#111"/>
<circle cx="457.90" cy="133.99" r="1.9" fill="#111"/>
<circle cx="461.00" cy="134.16" r="1.9" fill="#111"/>
<circle cx="464.10" cy="134.33" r="1.9" fill="#111"/>
<circle cx="467.20" cy="134.49" r="1.9" fill="#111"/>
<circle cx="470.30" cy="134.65" r="1.9" fill="#111"/>
<circle cx="473.40" cy="134.79" r="1.9" fill="#111"/>
<circle cx="476.50" cy="134.93" r="1.9" fill="#111"/>
<circle cx="479.60" cy="135.07" r="1.9" fill="#111"/>
<circle cx="482.70" cy="135.20" r="1.9" fill="#111"/>
<circle cx="485.80" cy="135.32" r="1.9" fill="#111"/>
<circle cx="488.90" cy="135.43" r="1.9" fill="#111"/>
<circle cx="492.00" cy="135.54" r="1.9" fill="#111"/>
<circle cx="495.10" cy="135.65" r="1.9" fill="#111"/>
<circle cx="498.20" cy="135.75" r="1.9" fill="#111"/>
<circle cx="501.30" cy="135.84" r="1.9" fill="#111"/>
<circle cx="504.40" cy="135.93" r="1.9" fill="#111"/>
<circle cx="290.00" cy="82.90" r="1.45" fill="#fff" stroke="#111" stroke-width="1.05"/>
<circle cx="293.10" cy="86.77" r="1.45" fill="#fff" stroke="#111" stroke-width="1.05"/>
<circle cx="296.20" cy="90.20" r="1.45" fill="#fff" stroke="#111" stroke-width="1.05"/>
<circle cx="299.30" cy="93.01" r="1.45" fill="#fff" stroke="#111" stroke-width="1.05"/>
<circle cx="302.40" cy="96.32" r="1.45" fill="#fff" stroke="#111" stroke-width="1.05"/>
<circle cx="305.50" cy="100.03" r="1.45" fill="#fff" stroke="#111" stroke-width="1.05"/>
<circle cx="308.60" cy="101.86" r="1.45" fill="#fff" stroke="#111" stroke-width="1.05"/>
<circle cx="311.70" cy="103.61" r="1.45" fill="#fff" stroke="#111" stroke-width="1.05"/>
<circle cx="314.80" cy="105.27" r="1.45" fill="#fff" stroke="#111" stroke-width="1.05"/>
<circle cx="317.90" cy="106.86" r="1.45" fill="#fff" stroke="#111" stroke-width="1.05"/>
<circle cx="321.00" cy="108.37" r="1.45" fill="#fff" stroke="#111" stroke-width="1.05"/>
<circle cx="324.10" cy="109.82" r="1.45" fill="#fff" stroke="#111" stroke-width="1.05"/>
<circle cx="327.20" cy="111.19" r="1.45" fill="#fff" stroke="#111" stroke-width="1.05"/>
<circle cx="330.30" cy="112.50" r="1.45" fill="#fff" stroke="#111" stroke-width="1.05"/>
<circle cx="333.40" cy="113.76" r="1.45" fill="#fff" stroke="#111" stroke-width="1.05"/>
<circle cx="336.50" cy="114.95" r="1.45" fill="#fff" stroke="#111" stroke-width="1.05"/>
<circle cx="339.60" cy="116.09" r="1.45" fill="#fff" stroke="#111" stroke-width="1.05"/>
<circle cx="342.70" cy="117.17" r="1.45" fill="#fff" stroke="#111" stroke-width="1.05"/>
<circle cx="345.80" cy="118.20" r="1.45" fill="#fff" stroke="#111" stroke-width="1.05"/>
<circle cx="348.90" cy="119.19" r="1.45" fill="#fff" stroke="#111" stroke-width="1.05"/>
<circle cx="352.00" cy="120.13" r="1.45" fill="#fff" stroke="#111" stroke-width="1.05"/>
<circle cx="355.10" cy="121.03" r="1.45" fill="#fff" stroke="#111" stroke-width="1.05"/>
<circle cx="358.20" cy="121.88" r="1.45" fill="#fff" stroke="#111" stroke-width="1.05"/>
<circle cx="361.30" cy="122.70" r="1.45" fill="#fff" stroke="#111" stroke-width="1.05"/>
<circle cx="364.40" cy="123.47" r="1.45" fill="#fff" stroke="#111" stroke-width="1.05"/>
<circle cx="367.50" cy="124.21" r="1.45" fill="#fff" stroke="#111" stroke-width="1.05"/>
<circle cx="370.60" cy="124.92" r="1.45" fill="#fff" stroke="#111" stroke-width="1.05"/>
<circle cx="373.70" cy="125.59" r="1.45" fill="#fff" stroke="#111" stroke-width="1.05"/>
<circle cx="376.80" cy="126.24" r="1.45" fill="#fff" stroke="#111" stroke-width="1.05"/>
<circle cx="379.90" cy="126.85" r="1.45" fill="#fff" stroke="#111" stroke-width="1.05"/>
<circle cx="383.00" cy="127.43" r="1.45" fill="#fff" stroke="#111" stroke-width="1.05"/>
<circle cx="386.10" cy="127.99" r="1.45" fill="#fff" stroke="#111" stroke-width="1.05"/>
<circle cx="389.20" cy="128.52" r="1.45" fill="#fff" stroke="#111" stroke-width="1.05"/>
<circle cx="392.30" cy="129.03" r="1.45" fill="#fff" stroke="#111" stroke-width="1.05"/>
<circle cx="395.40" cy="129.51" r="1.45" fill="#fff" stroke="#111" stroke-width="1.05"/>
<circle cx="398.50" cy="129.97" r="1.45" fill="#fff" stroke="#111" stroke-width="1.05"/>
<circle cx="401.60" cy="130.41" r="1.45" fill="#fff" stroke="#111" stroke-width="1.05"/>
<circle cx="404.70" cy="130.83" r="1.45" fill="#fff" stroke="#111" stroke-width="1.05"/>
<circle cx="407.80" cy="131.22" r="1.45" fill="#fff" stroke="#111" stroke-width="1.05"/>
<circle cx="410.90" cy="131.60" r="1.45" fill="#fff" stroke="#111" stroke-width="1.05"/>
<circle cx="414.00" cy="131.97" r="1.45" fill="#fff" stroke="#111" stroke-width="1.05"/>
<circle cx="417.10" cy="132.31" r="1.45" fill="#fff" stroke="#111" stroke-width="1.05"/>
<circle cx="420.20" cy="132.64" r="1.45" fill="#fff" stroke="#111" stroke-width="1.05"/>
<circle cx="423.30" cy="132.96" r="1.45" fill="#fff" stroke="#111" stroke-width="1.05"/>
<circle cx="426.40" cy="133.26" r="1.45" fill="#fff" stroke="#111" stroke-width="1.05"/>
<circle cx="429.50" cy="133.54" r="1.45" fill="#fff" stroke="#111" stroke-width="1.05"/>
<circle cx="432.60" cy="133.82" r="1.45" fill="#fff" stroke="#111" stroke-width="1.05"/>
<circle cx="435.70" cy="134.08" r="1.45" fill="#fff" stroke="#111" stroke-width="1.05"/>
<circle cx="438.80" cy="134.32" r="1.45" fill="#fff" stroke="#111" stroke-width="1.05"/>
<circle cx="441.90" cy="134.56" r="1.45" fill="#fff" stroke="#111" stroke-width="1.05"/>
<circle cx="445.00" cy="134.78" r="1.45" fill="#fff" stroke="#111" stroke-width="1.05"/>
<circle cx="448.10" cy="135.00" r="1.45" fill="#fff" stroke="#111" stroke-width="1.05"/>
<circle cx="451.20" cy="135.20" r="1.45" fill="#fff" stroke="#111" stroke-width="1.05"/>
<circle cx="454.30" cy="135.40" r="1.45" fill="#fff" stroke="#111" stroke-width="1.05"/>
<circle cx="457.40" cy="135.59" r="1.45" fill="#fff" stroke="#111" stroke-width="1.05"/>
<circle cx="460.50" cy="135.76" r="1.45" fill="#fff" stroke="#111" stroke-width="1.05"/>
<circle cx="463.60" cy="135.93" r="1.45" fill="#fff" stroke="#111" stroke-width="1.05"/>
<circle cx="466.70" cy="136.09" r="1.45" fill="#fff" stroke="#111" stroke-width="1.05"/>
<circle cx="469.80" cy="136.25" r="1.45" fill="#fff" stroke="#111" stroke-width="1.05"/>
<circle cx="472.90" cy="136.39" r="1.45" fill="#fff" stroke="#111" stroke-width="1.05"/>
<circle cx="476.00" cy="136.53" r="1.45" fill="#fff" stroke="#111" stroke-width="1.05"/>
<circle cx="479.10" cy="136.67" r="1.45" fill="#fff" stroke="#111" stroke-width="1.05"/>
<circle cx="482.20" cy="136.80" r="1.45" fill="#fff" stroke="#111" stroke-width="1.05"/>
<circle cx="485.30" cy="136.92" r="1.45" fill="#fff" stroke="#111" stroke-width="1.05"/>
<circle cx="488.40" cy="137.03" r="1.45" fill="#fff" stroke="#111" stroke-width="1.05"/>
<circle cx="491.50" cy="137.14" r="1.45" fill="#fff" stroke="#111" stroke-width="1.05"/>
<circle cx="494.60" cy="137.25" r="1.45" fill="#fff" stroke="#111" stroke-width="1.05"/>
<circle cx="497.70" cy="137.35" r="1.45" fill="#fff" stroke="#111" stroke-width="1.05"/>
<circle cx="500.80" cy="137.44" r="1.45" fill="#fff" stroke="#111" stroke-width="1.05"/>
<circle cx="503.90" cy="137.53" r="1.45" fill="#fff" stroke="#111" stroke-width="1.05"/>
<circle cx="290.00" cy="72.7" r="2.2" fill="#e3262b"/>
<circle cx="293.10" cy="79.21" r="1.5" fill="#d4414b"/>
<circle cx="296.20" cy="79.70" r="1.5" fill="#d4414b"/>
<circle cx="299.30" cy="80.31" r="1.5" fill="#d4414b"/>
<circle cx="302.40" cy="80.88" r="1.5" fill="#d4414b"/>
<circle cx="305.50" cy="84.19" r="1.5" fill="#d4414b"/>
<circle cx="308.60" cy="84.68" r="1.5" fill="#d4414b"/>
<circle cx="311.70" cy="85.17" r="1.5" fill="#d4414b"/>
<circle cx="314.80" cy="85.65" r="1.5" fill="#d4414b"/>
<circle cx="317.90" cy="86.12" r="1.5" fill="#d4414b"/>
<circle cx="321.00" cy="86.58" r="1.5" fill="#d4414b"/>
<circle cx="324.10" cy="87.04" r="1.5" fill="#d4414b"/>
<circle cx="327.20" cy="87.48" r="1.5" fill="#d4414b"/>
<circle cx="330.30" cy="87.92" r="1.5" fill="#d4414b"/>
<circle cx="333.40" cy="88.35" r="1.5" fill="#d4414b"/>
<circle cx="336.50" cy="88.77" r="1.5" fill="#d4414b"/>
<circle cx="339.60" cy="89.19" r="1.5" fill="#d4414b"/>
<circle cx="342.70" cy="89.59" r="1.5" fill="#d4414b"/>
<circle cx="345.80" cy="89.99" r="1.5" fill="#d4414b"/>
<circle cx="348.90" cy="90.39" r="1.5" fill="#d4414b"/>
<circle cx="352.00" cy="90.77" r="1.5" fill="#d4414b"/>
<circle cx="355.10" cy="91.15" r="1.5" fill="#d4414b"/>
<circle cx="358.20" cy="91.52" r="1.5" fill="#d4414b"/>
<circle cx="361.30" cy="91.89" r="1.5" fill="#d4414b"/>
<circle cx="364.40" cy="92.24" r="1.5" fill="#d4414b"/>
<circle cx="367.50" cy="92.60" r="1.5" fill="#d4414b"/>
<circle cx="370.60" cy="92.94" r="1.5" fill="#d4414b"/>
<circle cx="373.70" cy="93.28" r="1.5" fill="#d4414b"/>
<circle cx="376.80" cy="93.61" r="1.5" fill="#d4414b"/>
<circle cx="379.90" cy="93.94" r="1.5" fill="#d4414b"/>
<circle cx="383.00" cy="94.26" r="1.5" fill="#d4414b"/>
<circle cx="386.10" cy="94.58" r="1.5" fill="#d4414b"/>
<circle cx="389.20" cy="94.89" r="1.5" fill="#d4414b"/>
<circle cx="392.30" cy="95.19" r="1.5" fill="#d4414b"/>
<circle cx="395.40" cy="95.49" r="1.5" fill="#d4414b"/>
<circle cx="398.50" cy="95.78" r="1.5" fill="#d4414b"/>
<circle cx="401.60" cy="96.07" r="1.5" fill="#d4414b"/>
<circle cx="404.70" cy="96.35" r="1.5" fill="#d4414b"/>
<circle cx="407.80" cy="96.63" r="1.5" fill="#d4414b"/>
<circle cx="410.90" cy="96.90" r="1.5" fill="#d4414b"/>
<circle cx="414.00" cy="97.17" r="1.5" fill="#d4414b"/>
<circle cx="417.10" cy="97.43" r="1.5" fill="#d4414b"/>
<circle cx="420.20" cy="97.69" r="1.5" fill="#d4414b"/>
<circle cx="423.30" cy="97.95" r="1.5" fill="#d4414b"/>
<circle cx="426.40" cy="98.20" r="1.5" fill="#d4414b"/>
<circle cx="429.50" cy="98.44" r="1.5" fill="#d4414b"/>
<circle cx="432.60" cy="98.68" r="1.5" fill="#d4414b"/>
<circle cx="435.70" cy="98.92" r="1.5" fill="#d4414b"/>
<circle cx="438.80" cy="99.15" r="1.5" fill="#d4414b"/>
<circle cx="441.90" cy="99.38" r="1.5" fill="#d4414b"/>
<circle cx="445.00" cy="99.60" r="1.5" fill="#d4414b"/>
<circle cx="448.10" cy="99.82" r="1.5" fill="#d4414b"/>
<circle cx="451.20" cy="100.03" r="1.5" fill="#d4414b"/>
<circle cx="454.30" cy="100.24" r="1.5" fill="#d4414b"/>
<circle cx="457.40" cy="100.45" r="1.5" fill="#d4414b"/>
<circle cx="460.50" cy="100.66" r="1.5" fill="#d4414b"/>
<circle cx="463.60" cy="100.86" r="1.5" fill="#d4414b"/>
<circle cx="466.70" cy="101.05" r="1.5" fill="#d4414b"/>
<circle cx="469.80" cy="101.25" r="1.5" fill="#d4414b"/>
<circle cx="472.90" cy="101.44" r="1.5" fill="#d4414b"/>
<circle cx="476.00" cy="101.62" r="1.5" fill="#d4414b"/>
<circle cx="479.10" cy="101.80" r="1.5" fill="#d4414b"/>
<circle cx="482.20" cy="101.98" r="1.5" fill="#d4414b"/>
<circle cx="485.30" cy="102.16" r="1.5" fill="#d4414b"/>
<circle cx="488.40" cy="102.33" r="1.5" fill="#d4414b"/>
<circle cx="491.50" cy="102.50" r="1.5" fill="#d4414b"/>
<circle cx="494.60" cy="102.67" r="1.5" fill="#d4414b"/>
<circle cx="497.70" cy="102.83" r="1.5" fill="#d4414b"/>
<circle cx="500.80" cy="103.00" r="1.5" fill="#d4414b"/>
<circle cx="503.90" cy="103.15" r="1.5" fill="#d4414b"/>
<circle cx="290.00" cy="78.90" r="1.3" fill="#fff" stroke="#d03c46" stroke-width="1.15"/>
<circle cx="293.10" cy="79.51" r="1.3" fill="#fff" stroke="#d03c46" stroke-width="1.15"/>
<circle cx="296.20" cy="80.00" r="1.3" fill="#fff" stroke="#d03c46" stroke-width="1.15"/>
<circle cx="299.30" cy="80.61" r="1.3" fill="#fff" stroke="#d03c46" stroke-width="1.15"/>
<circle cx="302.40" cy="81.18" r="1.3" fill="#fff" stroke="#d03c46" stroke-width="1.15"/>
<circle cx="305.50" cy="84.49" r="1.3" fill="#fff" stroke="#d03c46" stroke-width="1.15"/>
<circle cx="308.60" cy="84.98" r="1.3" fill="#fff" stroke="#d03c46" stroke-width="1.15"/>
<circle cx="311.70" cy="85.47" r="1.3" fill="#fff" stroke="#d03c46" stroke-width="1.15"/>
<circle cx="314.80" cy="85.95" r="1.3" fill="#fff" stroke="#d03c46" stroke-width="1.15"/>
<circle cx="317.90" cy="86.42" r="1.3" fill="#fff" stroke="#d03c46" stroke-width="1.15"/>
<circle cx="321.00" cy="86.88" r="1.3" fill="#fff" stroke="#d03c46" stroke-width="1.15"/>
<circle cx="324.10" cy="87.34" r="1.3" fill="#fff" stroke="#d03c46" stroke-width="1.15"/>
<circle cx="327.20" cy="87.78" r="1.3" fill="#fff" stroke="#d03c46" stroke-width="1.15"/>
<circle cx="330.30" cy="88.22" r="1.3" fill="#fff" stroke="#d03c46" stroke-width="1.15"/>
<circle cx="333.40" cy="88.65" r="1.3" fill="#fff" stroke="#d03c46" stroke-width="1.15"/>
<circle cx="336.50" cy="89.07" r="1.3" fill="#fff" stroke="#d03c46" stroke-width="1.15"/>
<circle cx="339.60" cy="89.49" r="1.3" fill="#fff" stroke="#d03c46" stroke-width="1.15"/>
<circle cx="342.70" cy="89.89" r="1.3" fill="#fff" stroke="#d03c46" stroke-width="1.15"/>
<circle cx="345.80" cy="90.29" r="1.3" fill="#fff" stroke="#d03c46" stroke-width="1.15"/>
<circle cx="348.90" cy="90.69" r="1.3" fill="#fff" stroke="#d03c46" stroke-width="1.15"/>
<circle cx="352.00" cy="91.07" r="1.3" fill="#fff" stroke="#d03c46" stroke-width="1.15"/>
<circle cx="355.10" cy="91.45" r="1.3" fill="#fff" stroke="#d03c46" stroke-width="1.15"/>
<circle cx="358.20" cy="91.82" r="1.3" fill="#fff" stroke="#d03c46" stroke-width="1.15"/>
<circle cx="361.30" cy="92.19" r="1.3" fill="#fff" stroke="#d03c46" stroke-width="1.15"/>
<circle cx="364.40" cy="92.54" r="1.3" fill="#fff" stroke="#d03c46" stroke-width="1.15"/>
<circle cx="367.50" cy="92.90" r="1.3" fill="#fff" stroke="#d03c46" stroke-width="1.15"/>
<circle cx="370.60" cy="93.24" r="1.3" fill="#fff" stroke="#d03c46" stroke-width="1.15"/>
<circle cx="373.70" cy="93.58" r="1.3" fill="#fff" stroke="#d03c46" stroke-width="1.15"/>
<circle cx="376.80" cy="93.91" r="1.3" fill="#fff" stroke="#d03c46" stroke-width="1.15"/>
<circle cx="379.90" cy="94.24" r="1.3" fill="#fff" stroke="#d03c46" stroke-width="1.15"/>
<circle cx="383.00" cy="94.56" r="1.3" fill="#fff" stroke="#d03c46" stroke-width="1.15"/>
<circle cx="386.10" cy="94.88" r="1.3" fill="#fff" stroke="#d03c46" stroke-width="1.15"/>
<circle cx="389.20" cy="95.19" r="1.3" fill="#fff" stroke="#d03c46" stroke-width="1.15"/>
<circle cx="392.30" cy="95.49" r="1.3" fill="#fff" stroke="#d03c46" stroke-width="1.15"/>
<circle cx="395.40" cy="95.79" r="1.3" fill="#fff" stroke="#d03c46" stroke-width="1.15"/>
<circle cx="398.50" cy="96.08" r="1.3" fill="#fff" stroke="#d03c46" stroke-width="1.15"/>
<circle cx="401.60" cy="96.37" r="1.3" fill="#fff" stroke="#d03c46" stroke-width="1.15"/>
<circle cx="404.70" cy="96.65" r="1.3" fill="#fff" stroke="#d03c46" stroke-width="1.15"/>
<circle cx="407.80" cy="96.93" r="1.3" fill="#fff" stroke="#d03c46" stroke-width="1.15"/>
<circle cx="410.90" cy="97.20" r="1.3" fill="#fff" stroke="#d03c46" stroke-width="1.15"/>
<circle cx="414.00" cy="97.47" r="1.3" fill="#fff" stroke="#d03c46" stroke-width="1.15"/>
<circle cx="417.10" cy="97.73" r="1.3" fill="#fff" stroke="#d03c46" stroke-width="1.15"/>
<circle cx="420.20" cy="97.99" r="1.3" fill="#fff" stroke="#d03c46" stroke-width="1.15"/>
<circle cx="423.30" cy="98.25" r="1.3" fill="#fff" stroke="#d03c46" stroke-width="1.15"/>
<circle cx="426.40" cy="98.50" r="1.3" fill="#fff" stroke="#d03c46" stroke-width="1.15"/>
<circle cx="429.50" cy="98.74" r="1.3" fill="#fff" stroke="#d03c46" stroke-width="1.15"/>
<circle cx="432.60" cy="98.98" r="1.3" fill="#fff" stroke="#d03c46" stroke-width="1.15"/>
<circle cx="435.70" cy="99.22" r="1.3" fill="#fff" stroke="#d03c46" stroke-width="1.15"/>
<circle cx="438.80" cy="99.45" r="1.3" fill="#fff" stroke="#d03c46" stroke-width="1.15"/>
<circle cx="441.90" cy="99.68" r="1.3" fill="#fff" stroke="#d03c46" stroke-width="1.15"/>
<circle cx="445.00" cy="99.90" r="1.3" fill="#fff" stroke="#d03c46" stroke-width="1.15"/>
<circle cx="448.10" cy="100.12" r="1.3" fill="#fff" stroke="#d03c46" stroke-width="1.15"/>
<circle cx="451.20" cy="100.33" r="1.3" fill="#fff" stroke="#d03c46" stroke-width="1.15"/>
<circle cx="454.30" cy="100.54" r="1.3" fill="#fff" stroke="#d03c46" stroke-width="1.15"/>
<circle cx="457.40" cy="100.75" r="1.3" fill="#fff" stroke="#d03c46" stroke-width="1.15"/>
<circle cx="460.50" cy="100.96" r="1.3" fill="#fff" stroke="#d03c46" stroke-width="1.15"/>
<circle cx="463.60" cy="101.16" r="1.3" fill="#fff" stroke="#d03c46" stroke-width="1.15"/>
<circle cx="466.70" cy="101.35" r="1.3" fill="#fff" stroke="#d03c46" stroke-width="1.15"/>
<circle cx="469.80" cy="101.55" r="1.3" fill="#fff" stroke="#d03c46" stroke-width="1.15"/>
<circle cx="472.90" cy="101.74" r="1.3" fill="#fff" stroke="#d03c46" stroke-width="1.15"/>
<circle cx="476.00" cy="101.92" r="1.3" fill="#fff" stroke="#d03c46" stroke-width="1.15"/>
<circle cx="479.10" cy="102.10" r="1.3" fill="#fff" stroke="#d03c46" stroke-width="1.15"/>
<circle cx="482.20" cy="102.28" r="1.3" fill="#fff" stroke="#d03c46" stroke-width="1.15"/>
<circle cx="485.30" cy="102.46" r="1.3" fill="#fff" stroke="#d03c46" stroke-width="1.15"/>
<circle cx="488.40" cy="102.63" r="1.3" fill="#fff" stroke="#d03c46" stroke-width="1.15"/>
<circle cx="491.50" cy="102.80" r="1.3" fill="#fff" stroke="#d03c46" stroke-width="1.15"/>
<circle cx="494.60" cy="102.97" r="1.3" fill="#fff" stroke="#d03c46" stroke-width="1.15"/>
<circle cx="497.70" cy="103.13" r="1.3" fill="#fff" stroke="#d03c46" stroke-width="1.15"/>
<circle cx="500.80" cy="103.30" r="1.3" fill="#fff" stroke="#d03c46" stroke-width="1.15"/>
<circle cx="503.90" cy="103.45" r="1.3" fill="#fff" stroke="#d03c46" stroke-width="1.15"/>
<path d="M505.9 21.9 L285.4 21.9 L285.4 144.3 L505.9 144.3" fill="none" stroke="#1a1a1a" stroke-width="1.5"/>
<line x1="505.90" y1="21.20" x2="505.90" y2="145.00" stroke="#3a44a0" stroke-width="1.5"/>
<line x1="283.20" y1="144.30" x2="285.40" y2="144.30" stroke="#222" stroke-width="1.1"/>
<text x="281.30" y="147.90" font-size="10.2" text-anchor="end" fill="#222" stroke="#222" stroke-width="0.22" font-weight="bold" font-family='"Liberation Sans", sans-serif'>0</text>
<line x1="283.20" y1="123.90" x2="285.40" y2="123.90" stroke="#222" stroke-width="1.1"/>
<text x="281.30" y="127.50" font-size="10.2" text-anchor="end" fill="#222" stroke="#222" stroke-width="0.22" font-weight="bold" font-family='"Liberation Sans", sans-serif'>50</text>
<line x1="283.20" y1="103.50" x2="285.40" y2="103.50" stroke="#222" stroke-width="1.1"/>
<text x="281.30" y="107.10" font-size="10.2" text-anchor="end" fill="#222" stroke="#222" stroke-width="0.22" font-weight="bold" font-family='"Liberation Sans", sans-serif'>100</text>
<line x1="283.20" y1="83.10" x2="285.40" y2="83.10" stroke="#222" stroke-width="1.1"/>
<text x="281.30" y="86.70" font-size="10.2" text-anchor="end" fill="#222" stroke="#222" stroke-width="0.22" font-weight="bold" font-family='"Liberation Sans", sans-serif'>150</text>
<line x1="283.20" y1="62.70" x2="285.40" y2="62.70" stroke="#222" stroke-width="1.1"/>
<text x="281.30" y="66.30" font-size="10.2" text-anchor="end" fill="#222" stroke="#222" stroke-width="0.22" font-weight="bold" font-family='"Liberation Sans", sans-serif'>200</text>
<line x1="283.20" y1="42.30" x2="285.40" y2="42.30" stroke="#222" stroke-width="1.1"/>
<text x="281.30" y="45.90" font-size="10.2" text-anchor="end" fill="#222" stroke="#222" stroke-width="0.22" font-weight="bold" font-family='"Liberation Sans", sans-serif'>250</text>
<line x1="283.20" y1="21.90" x2="285.40" y2="21.90" stroke="#222" stroke-width="1.1"/>
<text x="281.30" y="25.50" font-size="10.2" text-anchor="end" fill="#222" stroke="#222" stroke-width="0.22" font-weight="bold" font-family='"Liberation Sans", sans-serif'>300</text>
<line x1="284.10" y1="134.10" x2="285.40" y2="134.10" stroke="#222" stroke-width="0.9"/>
<line x1="284.10" y1="113.70" x2="285.40" y2="113.70" stroke="#222" stroke-width="0.9"/>
<line x1="284.10" y1="93.30" x2="285.40" y2="93.30" stroke="#222" stroke-width="0.9"/>
<line x1="284.10" y1="72.90" x2="285.40" y2="72.90" stroke="#222" stroke-width="0.9"/>
<line x1="284.10" y1="52.50" x2="285.40" y2="52.50" stroke="#222" stroke-width="0.9"/>
<line x1="284.10" y1="32.10" x2="285.40" y2="32.10" stroke="#222" stroke-width="0.9"/>
<line x1="286.90" y1="144.30" x2="286.90" y2="146.50" stroke="#222" stroke-width="1.1"/>
<text x="286.90" y="156.20" font-size="10.2" text-anchor="middle" fill="#222" stroke="#222" stroke-width="0.22" font-weight="bold" font-family='"Liberation Sans", sans-serif'>0</text>
<line x1="317.90" y1="144.30" x2="317.90" y2="146.50" stroke="#222" stroke-width="1.1"/>
<text x="317.90" y="156.20" font-size="10.2" text-anchor="middle" fill="#222" stroke="#222" stroke-width="0.22" font-weight="bold" font-family='"Liberation Sans", sans-serif'>10</text>
<line x1="348.90" y1="144.30" x2="348.90" y2="146.50" stroke="#222" stroke-width="1.1"/>
<text x="348.90" y="156.20" font-size="10.2" text-anchor="middle" fill="#222" stroke="#222" stroke-width="0.22" font-weight="bold" font-family='"Liberation Sans", sans-serif'>20</text>
<line x1="379.90" y1="144.30" x2="379.90" y2="146.50" stroke="#222" stroke-width="1.1"/>
<text x="379.90" y="156.20" font-size="10.2" text-anchor="middle" fill="#222" stroke="#222" stroke-width="0.22" font-weight="bold" font-family='"Liberation Sans", sans-serif'>30</text>
<line x1="410.90" y1="144.30" x2="410.90" y2="146.50" stroke="#222" stroke-width="1.1"/>
<text x="410.90" y="156.20" font-size="10.2" text-anchor="middle" fill="#222" stroke="#222" stroke-width="0.22" font-weight="bold" font-family='"Liberation Sans", sans-serif'>40</text>
<line x1="441.90" y1="144.30" x2="441.90" y2="146.50" stroke="#222" stroke-width="1.1"/>
<text x="441.90" y="156.20" font-size="10.2" text-anchor="middle" fill="#222" stroke="#222" stroke-width="0.22" font-weight="bold" font-family='"Liberation Sans", sans-serif'>50</text>
<line x1="472.90" y1="144.30" x2="472.90" y2="146.50" stroke="#222" stroke-width="1.1"/>
<text x="472.90" y="156.20" font-size="10.2" text-anchor="middle" fill="#222" stroke="#222" stroke-width="0.22" font-weight="bold" font-family='"Liberation Sans", sans-serif'>60</text>
<line x1="503.90" y1="144.30" x2="503.90" y2="146.50" stroke="#222" stroke-width="1.1"/>
<text x="503.90" y="156.20" font-size="10.2" text-anchor="middle" fill="#222" stroke="#222" stroke-width="0.22" font-weight="bold" font-family='"Liberation Sans", sans-serif'>70</text>
<line x1="302.40" y1="144.30" x2="302.40" y2="145.60" stroke="#222" stroke-width="0.9"/>
<line x1="333.40" y1="144.30" x2="333.40" y2="145.60" stroke="#222" stroke-width="0.9"/>
<line x1="364.40" y1="144.30" x2="364.40" y2="145.60" stroke="#222" stroke-width="0.9"/>
<line x1="395.40" y1="144.30" x2="395.40" y2="145.60" stroke="#222" stroke-width="0.9"/>
<line x1="426.40" y1="144.30" x2="426.40" y2="145.60" stroke="#222" stroke-width="0.9"/>
<line x1="457.40" y1="144.30" x2="457.40" y2="145.60" stroke="#222" stroke-width="0.9"/>
<line x1="488.40" y1="144.30" x2="488.40" y2="145.60" stroke="#222" stroke-width="0.9"/>
<line x1="505.90" y1="143.70" x2="508.30" y2="143.70" stroke="#3a44a0" stroke-width="1.1"/>
<text x="510.60" y="147.30" font-size="10.2" text-anchor="start" fill="#2f3a8f" stroke="#2f3a8f" stroke-width="0.22" font-weight="bold" font-family='"Liberation Sans", sans-serif'>60</text>
<line x1="505.90" y1="114.70" x2="508.30" y2="114.70" stroke="#3a44a0" stroke-width="1.1"/>
<text x="510.60" y="118.30" font-size="10.2" text-anchor="start" fill="#2f3a8f" stroke="#2f3a8f" stroke-width="0.22" font-weight="bold" font-family='"Liberation Sans", sans-serif'>70</text>
<line x1="505.90" y1="85.70" x2="508.30" y2="85.70" stroke="#3a44a0" stroke-width="1.1"/>
<text x="510.60" y="89.30" font-size="10.2" text-anchor="start" fill="#2f3a8f" stroke="#2f3a8f" stroke-width="0.22" font-weight="bold" font-family='"Liberation Sans", sans-serif'>80</text>
<line x1="505.90" y1="56.70" x2="508.30" y2="56.70" stroke="#3a44a0" stroke-width="1.1"/>
<text x="510.60" y="60.30" font-size="10.2" text-anchor="start" fill="#2f3a8f" stroke="#2f3a8f" stroke-width="0.22" font-weight="bold" font-family='"Liberation Sans", sans-serif'>90</text>
<line x1="505.90" y1="27.70" x2="508.30" y2="27.70" stroke="#3a44a0" stroke-width="1.1"/>
<text x="510.60" y="31.30" font-size="10.2" text-anchor="start" fill="#2f3a8f" stroke="#2f3a8f" stroke-width="0.22" font-weight="bold" font-family='"Liberation Sans", sans-serif'>100</text>
<line x1="505.90" y1="129.20" x2="507.30" y2="129.20" stroke="#3a44a0" stroke-width="0.9"/>
<line x1="505.90" y1="100.20" x2="507.30" y2="100.20" stroke="#3a44a0" stroke-width="0.9"/>
<line x1="505.90" y1="71.20" x2="507.30" y2="71.20" stroke="#3a44a0" stroke-width="0.9"/>
<line x1="505.90" y1="42.20" x2="507.30" y2="42.20" stroke="#3a44a0" stroke-width="0.9"/>
<text x="359.00" y="169.70" font-size="11.0" text-anchor="start" fill="#222" stroke="#222" stroke-width="0.22" font-weight="bold" font-family='"Liberation Sans", sans-serif'>Cycle number</text>
<text x="256.60" y="128.00" font-size="10.3" text-anchor="start" fill="#222" stroke="#222" stroke-width="0.22" font-weight="bold" font-family='"Liberation Sans", sans-serif' transform="rotate(-90 256.60 128.00)">Capacity (mAh g<tspan font-size="6.39" dy="-3.91">-1</tspan><tspan dy="3.91">&#8203;</tspan>)</text>
<text x="538.30" y="153.60" font-size="10.35" text-anchor="start" fill="#2f3a8f" stroke="#2f3a8f" stroke-width="0.22" font-weight="bold" font-family='"Liberation Sans", sans-serif' transform="rotate(-90 538.30 153.60)">Coulombic Efficiency (100%)</text>
<path d="M471.3 36.3 L471.3 52.5 L498 52.5" fill="none" stroke="#4a50b2" stroke-width="1.1"/>
<path d="M501 52.5 L495 50.6 L495 54.4 Z" fill="#4a50b2"/>
<text x="305.00" y="78.20" font-size="8.2" text-anchor="start" fill="#7c7c7c" stroke="#7c7c7c" stroke-width="0.22" font-weight="bold" font-family='"Liberation Sans", sans-serif'>0.125mA cm<tspan font-size="5.08" dy="-3.12">-2</tspan><tspan dy="3.12">&#8203;</tspan>@RT</text>
<text x="504.30" y="90.20" font-size="8.0" text-anchor="end" fill="#c83238" stroke="#c83238" stroke-width="0.22" font-weight="bold" font-family='"Liberation Sans", sans-serif'>hvLCO/Li<tspan font-size="4.96" dy="2.24">3</tspan><tspan dy="-2.24">&#8203;</tspan>InCl<tspan font-size="4.96" dy="2.24" letter-spacing="0.5">4.8</tspan><tspan dy="-2.24">&#8203;</tspan>F<tspan font-size="4.96" dy="2.24" letter-spacing="0.5">1.2</tspan><tspan dy="-2.24">&#8203;</tspan> cathode</text>
<text x="398.60" y="123.80" font-size="8.1" text-anchor="start" fill="#222" stroke="#222" stroke-width="0.22" font-weight="bold" font-family='"Liberation Sans", sans-serif'>hvLCO/Li<tspan font-size="4.46" dy="2.43">3</tspan><tspan dy="-2.43">&#8203;</tspan>InCl<tspan font-size="4.46" dy="2.43">6</tspan><tspan dy="-2.43">&#8203;</tspan> cathode</text>
<rect x="289.6" y="128.6" width="58.6" height="12.2" fill="#dadada" stroke="#444" stroke-width="1.3"/>
<text x="291.00" y="138.60" font-size="8.0" text-anchor="start" fill="#111" stroke="#111" stroke-width="0.22" font-weight="bold" font-family='"Liberation Sans", sans-serif'>4.47V vs. Li/Li<tspan font-size="4.96" dy="-3.04">+</tspan><tspan dy="3.04">&#8203;</tspan></text>
<text x="11.80" y="194.60" font-size="16.6" text-anchor="start" fill="#222" stroke="#222" stroke-width="0" font-weight="normal" font-family='"Liberation Serif", serif'>(c)</text>
<polyline points="50.60,205.60 52.48,205.79 54.97,206.01 57.94,206.27 61.24,206.58 64.73,206.94 68.29,207.36 71.75,207.84 75.00,208.40 78.10,209.06 81.21,209.83 84.33,210.69 87.46,211.59 90.60,212.52 93.74,213.43 96.87,214.30 100.00,215.10 103.12,215.85 106.25,216.61 109.38,217.34 112.50,218.06 115.62,218.73 118.75,219.35 121.88,219.91 125.00,220.40 128.16,220.80 131.37,221.11 134.59,221.36 137.81,221.56 140.99,221.72 144.10,221.87 147.11,222.03 150.00,222.20 152.81,222.38 155.59,222.54 158.31,222.70 160.94,222.84 163.45,222.98 165.82,223.12 168.01,223.26 170.00,223.40 171.78,223.53 173.37,223.64 174.80,223.74 176.08,223.84 177.22,223.95 178.24,224.09 179.16,224.27 180.00,224.50 180.71,224.75 181.25,225.01 181.66,225.29 181.96,225.60 182.20,225.96 182.40,226.39 182.59,226.90 182.80,227.50 183.02,228.11 183.20,228.67 183.34,229.26 183.46,229.94 183.56,230.79 183.65,231.87 183.73,233.25 183.80,235.00 183.86,237.37 183.91,240.38 183.94,243.81 183.96,247.42 183.97,250.97 183.98,254.22 183.99,256.94 184.00,258.90" fill="none" stroke="#4a4a4a" stroke-width="1.4" stroke-linejoin="round" stroke-linecap="round"/>
<polyline points="50.60,221.30 52.48,221.32 54.97,221.36 57.94,221.41 61.24,221.46 64.73,221.50 68.29,221.52 71.75,221.53 75.00,221.50 78.10,221.44 81.21,221.36 84.33,221.27 87.46,221.15 90.60,221.02 93.74,220.89 96.87,220.74 100.00,220.60 103.24,220.45 106.65,220.27 110.12,220.09 113.56,219.90 116.87,219.71 119.95,219.53 122.69,219.35 125.00,219.20 126.75,219.09 127.98,219.01 128.85,218.97 129.50,218.92 130.09,218.85 130.77,218.74 131.69,218.56 133.00,218.30 134.64,217.95 136.43,217.54 138.36,217.06 140.44,216.54 142.64,215.99 144.98,215.41 147.43,214.81 150.00,214.20 152.81,213.56 155.92,212.86 159.23,212.12 162.62,211.37 166.01,210.62 169.27,209.89 172.30,209.21 175.00,208.60 177.41,208.05 179.64,207.53 181.71,207.05 183.62,206.59 185.40,206.17 187.05,205.76 188.58,205.37 190.00,205.00 191.29,204.66 192.41,204.35 193.40,204.07 194.26,203.81 195.03,203.56 195.73,203.29 196.38,203.01 197.00,202.70 197.56,202.35 198.03,201.99 198.43,201.60 198.76,201.21 199.05,200.81 199.31,200.42 199.56,200.05 199.80,199.70 200.03,199.35 200.24,199.00 200.42,198.65 200.58,198.31 200.71,198.00 200.82,197.72 200.92,197.48 201.00,197.30" fill="none" stroke="#4a4a4a" stroke-width="1.4" stroke-linejoin="round" stroke-linecap="round"/>
<polyline points="50.58,209.41 51.22,209.37 51.86,209.34 52.50,209.32 53.13,209.30 53.77,209.30 54.40,209.30 55.03,209.31 55.66,209.33 56.29,209.35 56.92,209.39 57.55,209.43 58.18,209.47 58.80,209.52 59.43,209.58 60.05,209.65 60.68,209.72 61.30,209.80 61.92,209.89 62.54,209.98 63.16,210.07 63.78,210.17 64.40,210.28 65.02,210.39 65.64,210.51 66.25,210.63 66.87,210.76 67.48,210.89 68.10,211.03 68.71,211.17 69.32,211.31 69.94,211.46 70.55,211.61 71.16,211.77 71.77,211.92 72.38,212.09 72.99,212.25 73.60,212.42 74.21,212.59 74.82,212.76 75.43,212.94 76.04,213.12 76.64,213.30 77.25,213.48 77.86,213.67 78.46,213.85 79.07,214.04 79.68,214.23 80.28,214.42 80.89,214.61 81.49,214.80 82.10,215.00 82.70,215.19 83.31,215.38 83.91,215.58 84.52,215.77 85.12,215.96 85.72,216.16 86.33,216.35 86.93,216.54 87.54,216.74 88.14,216.93 88.75,217.12 89.35,217.31 89.95,217.50 90.56,217.68 91.16,217.87 91.77,218.05 92.37,218.23 92.98,218.41 93.58,218.58 94.19,218.76 94.79,218.93 95.40,219.10 96.01,219.26 96.61,219.43 97.22,219.58 97.83,219.74 98.44,219.89 99.04,220.04 99.65,220.18 100.26,220.32 100.87,220.46 101.48,220.59 102.09,220.72 102.70,220.85 103.31,220.97 103.92,221.08 104.54,221.20 105.15,221.31 105.76,221.41 106.38,221.52 106.99,221.62 107.61,221.71 108.22,221.81 108.84,221.90 109.46,221.99 110.08,222.07 110.70,222.15 111.32,222.23 111.94,222.31 112.56,222.38 113.19,222.46 113.81,222.53 114.44,222.59 115.06,222.66 115.69,222.72 116.32,222.79 116.95,222.85 117.58,222.91 118.21,222.96 118.85,223.02 119.48,223.07 120.12,223.12 120.76,223.17 121.40,223.22 122.04,223.27 122.68,223.32 123.32,223.37 123.97,223.41 124.61,223.46 125.26,223.50 125.91,223.55 126.56,223.59 127.21,223.64 127.85,223.69 128.50,223.75 129.15,223.81 129.79,223.88 130.43,223.96 131.06,224.05 131.69,224.15 132.32,224.26 132.94,224.39 133.55,224.53 134.16,224.68 134.76,224.86 135.34,225.05 135.92,225.26 136.50,225.49 137.06,225.74 137.60,226.01 138.14,226.30 138.67,226.62 139.18,226.95 139.68,227.30 140.16,227.68 140.63,228.07 141.08,228.48 141.52,228.92 141.95,229.36 142.36,229.83 142.76,230.31 143.14,230.81 143.51,231.32 143.86,231.85 144.20,232.38 144.52,232.93 144.83,233.48 145.12,234.05 145.40,234.62 145.67,235.21 145.92,235.80 146.16,236.39 146.38,236.99 146.60,237.60 146.80,238.22 146.99,238.84 147.17,239.46 147.34,240.09 147.50,240.73 147.65,241.36 147.79,242.00 147.92,242.64 148.04,243.29 148.15,243.94 148.26,244.58 148.36,245.23 148.45,245.88 148.54,246.53 148.62,247.18 148.69,247.83 148.76,248.48 148.83,249.13 148.89,249.77 148.95,250.41 149.00,251.05 149.05,251.68 149.10,252.32 149.15,252.94 149.19,253.57 149.24,254.18 149.28,254.80 149.32,255.40 149.37,256.00 149.41,256.60 149.45,257.18 149.50,257.76 149.55,258.33 149.60,258.89" fill="none" stroke="#d6404e" stroke-width="1.4" stroke-linejoin="round" stroke-linecap="round"/>
<polyline points="50.60,221.30 52.55,221.28 55.20,221.26 58.38,221.24 61.86,221.21 65.47,221.16 68.99,221.08 72.23,220.97 75.00,220.80 77.36,220.58 79.53,220.30 81.53,219.98 83.40,219.63 85.15,219.27 86.82,218.90 88.43,218.54 90.00,218.20 91.39,217.90 92.50,217.62 93.46,217.37 94.38,217.10 95.37,216.81 96.56,216.47 98.07,216.08 100.00,215.60 102.52,215.00 105.59,214.29 109.02,213.49 112.62,212.66 116.21,211.84 119.59,211.06 122.59,210.37 125.00,209.80 126.79,209.39 128.10,209.10 129.07,208.89 129.81,208.74 130.45,208.59 131.12,208.41 131.92,208.16 133.00,207.80 134.36,207.33 135.89,206.77 137.54,206.16 139.22,205.51 140.87,204.85 142.43,204.20 143.83,203.57 145.00,203.00 145.94,202.46 146.72,201.94 147.37,201.42 147.91,200.92 148.36,200.44 148.76,199.99 149.13,199.58 149.50,199.20 149.84,198.86 150.12,198.55 150.35,198.26 150.53,198.01 150.68,197.79 150.80,197.60 150.90,197.43 151.00,197.30" fill="none" stroke="#d6404e" stroke-width="1.4" stroke-linejoin="round" stroke-linecap="round"/>
<polyline points="50.60,211.20 51.29,211.19 52.16,211.14 53.19,211.08 54.36,211.03 55.65,211.02 57.04,211.06 58.49,211.18 60.00,211.40 61.61,211.75 63.36,212.22 65.21,212.78 67.15,213.39 69.13,214.02 71.12,214.63 73.09,215.21 75.00,215.70 76.91,216.12 78.87,216.51 80.84,216.87 82.81,217.21 84.74,217.54 86.60,217.86 88.36,218.17 90.00,218.50 91.42,218.83 92.62,219.15 93.68,219.46 94.69,219.77 95.74,220.08 96.91,220.38 98.31,220.69 100.00,221.00 102.12,221.31 104.65,221.63 107.43,221.95 110.31,222.26 113.16,222.58 115.82,222.89 118.15,223.20 120.00,223.50 121.34,223.78 122.30,224.04 122.97,224.28 123.44,224.53 123.78,224.79 124.10,225.08 124.48,225.41 125.00,225.80 125.62,226.24 126.25,226.70 126.88,227.19 127.50,227.72 128.12,228.29 128.75,228.91 129.38,229.57 130.00,230.30 130.63,231.09 131.27,231.95 131.92,232.87 132.56,233.83 133.20,234.82 133.82,235.84 134.42,236.87 135.00,237.90 135.56,238.96 136.12,240.06 136.67,241.20 137.20,242.34 137.71,243.49 138.18,244.63 138.61,245.74 139.00,246.80 139.34,247.84 139.64,248.89 139.90,249.92 140.12,250.93 140.32,251.91 140.50,252.84 140.66,253.70 140.80,254.50 140.92,255.24 141.01,255.94 141.07,256.59 141.11,257.18 141.14,257.72 141.16,258.19 141.18,258.58 141.20,258.90" fill="none" stroke="#3d7fc4" stroke-width="1.4" stroke-linejoin="round" stroke-linecap="round"/>
<polyline points="50.60,221.30 52.16,221.28 54.31,221.26 56.87,221.23 59.68,221.20 62.56,221.16 65.36,221.12 67.89,221.06 70.00,221.00 71.70,220.94 73.16,220.88 74.44,220.82 75.59,220.75 76.66,220.66 77.72,220.55 78.81,220.39 80.00,220.20 81.23,219.96 82.43,219.69 83.63,219.39 84.83,219.06 86.04,218.71 87.30,218.32 88.62,217.92 90.00,217.50 91.44,217.06 92.90,216.60 94.40,216.11 95.95,215.61 97.55,215.07 99.22,214.51 100.97,213.92 102.80,213.30 104.79,212.62 106.96,211.87 109.24,211.07 111.57,210.26 113.88,209.45 116.10,208.67 118.16,207.94 120.00,207.30 121.62,206.74 123.10,206.24 124.45,205.78 125.70,205.36 126.86,204.97 127.95,204.58 128.99,204.20 130.00,203.80 130.96,203.40 131.84,203.00 132.65,202.60 133.41,202.22 134.11,201.84 134.77,201.48 135.40,201.13 136.00,200.80 136.57,200.48 137.10,200.17 137.58,199.88 138.03,199.59 138.44,199.32 138.82,199.07 139.18,198.83 139.50,198.60 139.79,198.39 140.05,198.18 140.27,197.99 140.47,197.81 140.64,197.65 140.78,197.51 140.90,197.39 141.00,197.30" fill="none" stroke="#3d7fc4" stroke-width="1.4" stroke-linejoin="round" stroke-linecap="round"/>
<polyline points="50.60,269.20 52.48,269.45 54.97,269.76 57.94,270.13 61.24,270.55 64.73,271.01 68.29,271.52 71.75,272.05 75.00,272.60 78.15,273.21 81.40,273.90 84.68,274.64 87.96,275.40 91.18,276.16 94.30,276.90 97.25,277.59 100.00,278.20 102.40,278.73 104.44,279.21 106.26,279.64 108.00,280.04 109.80,280.43 111.81,280.81 114.16,281.19 117.00,281.60 120.48,282.03 124.55,282.49 128.99,282.95 133.62,283.41 138.24,283.85 142.64,284.25 146.63,284.61 150.00,284.90 152.79,285.11 155.20,285.25 157.29,285.34 159.12,285.39 160.75,285.44 162.23,285.49 163.63,285.57 165.00,285.70 166.29,285.86 167.41,286.04 168.39,286.22 169.25,286.42 170.02,286.64 170.72,286.89 171.37,287.18 172.00,287.50 172.57,287.85 173.05,288.20 173.46,288.59 173.81,289.00 174.12,289.46 174.41,289.97 174.70,290.55 175.00,291.20 175.30,291.93 175.59,292.74 175.87,293.62 176.12,294.54 176.37,295.52 176.59,296.52 176.80,297.55 177.00,298.60 177.18,299.66 177.34,300.74 177.48,301.85 177.61,302.99 177.72,304.17 177.82,305.39 177.92,306.67 178.00,308.00 178.07,309.49 178.13,311.18 178.18,312.98 178.21,314.79 178.24,316.53 178.26,318.10 178.28,319.42 178.30,320.40" fill="none" stroke="#4a4a4a" stroke-width="1.4" stroke-linejoin="round" stroke-linecap="round"/>
<polyline points="50.60,283.80 52.48,283.79 54.97,283.78 57.94,283.77 61.24,283.76 64.73,283.74 68.29,283.70 71.75,283.66 75.00,283.60 78.15,283.52 81.40,283.43 84.68,283.33 87.96,283.22 91.18,283.10 94.30,282.97 97.25,282.84 100.00,282.70 102.40,282.60 104.44,282.56 106.26,282.53 108.00,282.48 109.80,282.38 111.81,282.19 114.16,281.88 117.00,281.40 120.38,280.73 124.20,279.88 128.33,278.89 132.69,277.82 137.14,276.72 141.59,275.61 145.91,274.56 150.00,273.60 154.01,272.71 158.11,271.82 162.22,270.94 166.25,270.09 170.13,269.28 173.77,268.50 177.08,267.77 180.00,267.10 182.51,266.50 184.68,265.96 186.55,265.47 188.17,265.02 189.59,264.60 190.84,264.20 191.96,263.80 193.00,263.40 193.88,263.00 194.54,262.61 195.01,262.24 195.35,261.88 195.59,261.53 195.78,261.20 195.97,260.89 196.20,260.60 196.44,260.32 196.63,260.06 196.78,259.81 196.90,259.58 196.99,259.36 197.07,259.18 197.14,259.02 197.20,258.90" fill="none" stroke="#4a4a4a" stroke-width="1.4" stroke-linejoin="round" stroke-linecap="round"/>
<polyline points="50.60,278.39 51.00,278.53 51.40,278.67 51.79,278.81 52.19,278.95 52.58,279.09 52.97,279.23 53.37,279.37 53.76,279.51 54.14,279.65 54.53,279.79 54.92,279.93 55.31,280.07 55.69,280.21 56.07,280.35 56.46,280.50 56.84,280.64 57.22,280.78 57.60,280.92 57.98,281.07 58.36,281.21 58.74,281.35 59.12,281.49 59.50,281.64 59.88,281.78 60.25,281.92 60.63,282.06 61.00,282.21 61.38,282.35 61.75,282.49 62.13,282.63 62.50,282.78 62.88,282.92 63.25,283.06 63.62,283.20 64.00,283.34 64.37,283.48 64.74,283.63 65.11,283.77 65.48,283.91 65.86,284.05 66.23,284.19 66.60,284.33 66.97,284.47 67.35,284.60 67.72,284.74 68.09,284.88 68.46,285.02 68.84,285.16 69.21,285.29 69.58,285.43 69.96,285.56 70.33,285.70 70.70,285.83 71.08,285.97 71.45,286.10 71.83,286.24 72.20,286.37 72.58,286.50 72.96,286.63 73.33,286.76 73.71,286.89 74.09,287.02 74.47,287.15 74.85,287.28 75.23,287.40 75.61,287.53 75.99,287.65 76.38,287.78 76.76,287.90 77.15,288.02 77.53,288.15 77.92,288.27 78.30,288.39 78.69,288.50 79.08,288.62 79.47,288.74 79.86,288.86 80.26,288.97 80.65,289.09 81.05,289.20 81.44,289.31 81.84,289.42 82.24,289.53 82.64,289.64 83.04,289.75 83.44,289.85 83.85,289.96 84.25,290.06 84.66,290.17 85.07,290.27 85.48,290.37 85.89,290.47 86.30,290.57 86.71,290.68 87.12,290.78 87.53,290.88 87.94,290.98 88.35,291.09 88.76,291.19 89.17,291.30 89.57,291.40 89.98,291.51 90.39,291.62 90.79,291.74 91.19,291.85 91.59,291.97 91.99,292.09 92.39,292.21 92.79,292.34 93.18,292.46 93.57,292.60 93.96,292.73 94.34,292.87 94.72,293.01 95.10,293.16 95.48,293.31 95.85,293.47 96.22,293.63 96.58,293.79 96.94,293.96 97.30,294.14 97.65,294.32 98.00,294.50 98.34,294.70 98.68,294.89 99.01,295.10 99.34,295.31 99.67,295.52 99.98,295.75 100.29,295.98 100.60,296.22 100.90,296.46 101.19,296.71 101.48,296.97 101.77,297.24 102.04,297.51 102.32,297.78 102.58,298.07 102.84,298.36 103.10,298.65 103.35,298.95 103.60,299.26 103.84,299.57 104.08,299.89 104.32,300.21 104.54,300.54 104.77,300.87 104.99,301.20 105.21,301.54 105.42,301.89 105.63,302.24 105.83,302.59 106.04,302.94 106.23,303.30 106.43,303.66 106.62,304.03 106.81,304.40 106.99,304.77 107.17,305.14 107.35,305.52 107.53,305.90 107.70,306.28 107.87,306.66 108.04,307.05 108.21,307.43 108.37,307.82 108.53,308.21 108.69,308.60 108.85,308.99 109.00,309.38 109.16,309.78 109.31,310.17 109.46,310.56 109.61,310.96 109.76,311.35 109.90,311.75 110.05,312.14 110.19,312.53 110.34,312.93 110.48,313.32 110.62,313.71 110.76,314.10 110.90,314.49 111.04,314.87 111.18,315.26 111.32,315.64 111.46,316.02 111.60,316.40 111.74,316.78 111.88,317.16 112.02,317.53 112.16,317.90 112.30,318.26 112.44,318.63 112.58,318.99 112.72,319.35 112.87,319.70 113.01,320.05 113.16,320.39" fill="none" stroke="#d6404e" stroke-width="1.4" stroke-linejoin="round" stroke-linecap="round"/>
<polyline points="50.61,278.59 50.93,278.55 51.26,278.51 51.59,278.46 51.92,278.42 52.24,278.38 52.57,278.33 52.90,278.29 53.23,278.25 53.56,278.20 53.89,278.16 54.22,278.12 54.55,278.08 54.88,278.03 55.21,277.99 55.55,277.95 55.88,277.91 56.21,277.87 56.54,277.82 56.88,277.78 57.21,277.74 57.54,277.70 57.88,277.66 58.21,277.61 58.55,277.57 58.88,277.53 59.21,277.49 59.55,277.44 59.89,277.40 60.22,277.36 60.56,277.32 60.89,277.27 61.23,277.23 61.56,277.19 61.90,277.14 62.24,277.10 62.57,277.06 62.91,277.01 63.25,276.97 63.59,276.92 63.92,276.88 64.26,276.83 64.60,276.79 64.94,276.74 65.27,276.70 65.61,276.65 65.95,276.61 66.29,276.56 66.63,276.51 66.97,276.47 67.30,276.42 67.64,276.37 67.98,276.32 68.32,276.27 68.66,276.22 69.00,276.17 69.33,276.12 69.67,276.07 70.01,276.02 70.35,275.97 70.69,275.92 71.03,275.87 71.37,275.82 71.70,275.76 72.04,275.71 72.38,275.66 72.72,275.60 73.06,275.55 73.39,275.49 73.73,275.43 74.07,275.38 74.41,275.32 74.75,275.26 75.08,275.20 75.42,275.14 75.76,275.08 76.10,275.02 76.43,274.96 76.77,274.90 77.11,274.83 77.44,274.77 77.78,274.71 78.11,274.64 78.45,274.58 78.79,274.51 79.12,274.44 79.46,274.38 79.79,274.31 80.13,274.24 80.46,274.17 80.80,274.10 81.13,274.02 81.46,273.95 81.80,273.88 82.13,273.80 82.46,273.73 82.80,273.65 83.13,273.57 83.46,273.50 83.79,273.42 84.12,273.34 84.45,273.26 84.79,273.18 85.12,273.09 85.45,273.01 85.78,272.92 86.10,272.84 86.43,272.75 86.76,272.66 87.09,272.58 87.42,272.49 87.74,272.39 88.07,272.30 88.40,272.21 88.72,272.12 89.05,272.02 89.37,271.92 89.70,271.83 90.02,271.73 90.35,271.63 90.67,271.53 90.99,271.43 91.32,271.32 91.64,271.22 91.96,271.11 92.28,271.01 92.60,270.90 92.92,270.79 93.24,270.68 93.56,270.57 93.87,270.45 94.19,270.34 94.51,270.22 94.82,270.10 95.14,269.99 95.46,269.87 95.77,269.75 96.08,269.62 96.40,269.50 96.71,269.37 97.02,269.25 97.33,269.12 97.64,268.99 97.95,268.86 98.26,268.73 98.57,268.59 98.88,268.46 99.19,268.32 99.49,268.18 99.80,268.04 100.11,267.90 100.41,267.76 100.71,267.62 101.02,267.47 101.32,267.32 101.62,267.17 101.92,267.02 102.22,266.87 102.52,266.72 102.82,266.56 103.12,266.41 103.41,266.25 103.71,266.09 104.00,265.92 104.30,265.76 104.59,265.60 104.89,265.43 105.18,265.26 105.47,265.09 105.76,264.92 106.05,264.74 106.34,264.57 106.62,264.39 106.91,264.21 107.20,264.03 107.48,263.85 107.77,263.66 108.05,263.48 108.33,263.29 108.61,263.10 108.89,262.91 109.17,262.71 109.45,262.52 109.73,262.32 110.00,262.12 110.28,261.92 110.55,261.72 110.83,261.51 111.10,261.30 111.37,261.09 111.64,260.88 111.91,260.67 112.18,260.46 112.45,260.24 112.71,260.02 112.98,259.80 113.24,259.57 113.50,259.35 113.77,259.12 114.03,258.89" fill="none" stroke="#d6404e" stroke-width="1.4" stroke-linejoin="round" stroke-linecap="round"/>
<polyline points="50.54,282.32 50.79,282.46 51.03,282.60 51.27,282.74 51.52,282.88 51.76,283.02 52.01,283.16 52.26,283.30 52.50,283.44 52.75,283.58 52.99,283.71 53.24,283.85 53.49,283.99 53.73,284.13 53.98,284.27 54.23,284.41 54.48,284.55 54.72,284.69 54.97,284.83 55.22,284.97 55.47,285.11 55.72,285.25 55.96,285.39 56.21,285.53 56.46,285.67 56.71,285.81 56.96,285.95 57.21,286.09 57.45,286.23 57.70,286.37 57.95,286.51 58.20,286.66 58.45,286.80 58.69,286.94 58.94,287.08 59.19,287.22 59.44,287.37 59.69,287.51 59.93,287.65 60.18,287.80 60.43,287.94 60.67,288.09 60.92,288.23 61.17,288.37 61.41,288.52 61.66,288.67 61.91,288.81 62.15,288.96 62.40,289.10 62.64,289.25 62.89,289.40 63.13,289.55 63.38,289.70 63.62,289.85 63.86,290.00 64.11,290.15 64.35,290.30 64.59,290.45 64.84,290.60 65.08,290.75 65.32,290.90 65.56,291.06 65.80,291.21 66.04,291.36 66.28,291.52 66.52,291.68 66.76,291.83 67.00,291.99 67.23,292.15 67.47,292.30 67.71,292.46 67.94,292.62 68.18,292.78 68.41,292.94 68.65,293.11 68.88,293.27 69.12,293.43 69.35,293.59 69.58,293.76 69.81,293.92 70.04,294.09 70.27,294.26 70.50,294.42 70.73,294.59 70.96,294.76 71.18,294.93 71.41,295.10 71.64,295.28 71.86,295.45 72.09,295.62 72.31,295.80 72.53,295.97 72.75,296.15 72.97,296.33 73.19,296.50 73.41,296.68 73.63,296.86 73.85,297.04 74.07,297.23 74.28,297.41 74.50,297.59 74.71,297.78 74.92,297.96 75.13,298.15 75.35,298.34 75.56,298.53 75.76,298.72 75.97,298.91 76.18,299.10 76.39,299.30 76.59,299.49 76.79,299.69 77.00,299.88 77.20,300.08 77.40,300.28 77.60,300.48 77.80,300.68 78.00,300.88 78.19,301.09 78.39,301.29 78.58,301.50 78.78,301.70 78.97,301.91 79.16,302.12 79.35,302.33 79.54,302.54 79.73,302.75 79.92,302.96 80.11,303.17 80.29,303.39 80.48,303.60 80.66,303.82 80.84,304.04 81.02,304.25 81.20,304.47 81.38,304.69 81.56,304.91 81.74,305.14 81.91,305.36 82.09,305.58 82.26,305.81 82.44,306.03 82.61,306.26 82.78,306.48 82.95,306.71 83.12,306.94 83.28,307.17 83.45,307.40 83.62,307.63 83.78,307.87 83.94,308.10 84.11,308.33 84.27,308.57 84.43,308.80 84.59,309.04 84.74,309.28 84.90,309.52 85.05,309.76 85.21,310.00 85.36,310.24 85.51,310.48 85.67,310.72 85.82,310.96 85.96,311.21 86.11,311.45 86.26,311.70 86.40,311.94 86.55,312.19 86.69,312.44 86.83,312.69 86.97,312.94 87.11,313.19 87.25,313.44 87.39,313.69 87.53,313.94 87.66,314.19 87.80,314.45 87.93,314.70 88.06,314.96 88.19,315.21 88.32,315.47 88.45,315.73 88.58,315.98 88.70,316.24 88.83,316.50 88.95,316.76 89.07,317.02 89.19,317.28 89.31,317.54 89.43,317.81 89.55,318.07 89.67,318.33 89.78,318.60 89.90,318.86 90.01,319.13 90.12,319.39 90.23,319.66 90.34,319.93 90.45,320.20 90.56,320.47" fill="none" stroke="#3d7fc4" stroke-width="1.4" stroke-linejoin="round" stroke-linecap="round"/>
<polyline points="50.60,277.59 50.84,277.59 51.07,277.58 51.30,277.58 51.54,277.57 51.77,277.57 52.01,277.56 52.24,277.56 52.48,277.55 52.71,277.54 52.95,277.53 53.18,277.52 53.42,277.51 53.65,277.50 53.89,277.48 54.13,277.47 54.36,277.46 54.60,277.44 54.83,277.43 55.07,277.41 55.31,277.39 55.54,277.37 55.78,277.35 56.01,277.33 56.25,277.31 56.49,277.29 56.72,277.27 56.96,277.24 57.20,277.22 57.43,277.20 57.67,277.17 57.91,277.14 58.14,277.11 58.38,277.09 58.62,277.06 58.85,277.03 59.09,276.99 59.32,276.96 59.56,276.93 59.80,276.90 60.03,276.86 60.27,276.83 60.50,276.79 60.74,276.75 60.98,276.71 61.21,276.67 61.45,276.63 61.68,276.59 61.92,276.55 62.15,276.51 62.39,276.47 62.62,276.42 62.86,276.38 63.09,276.33 63.33,276.28 63.56,276.24 63.80,276.19 64.03,276.14 64.26,276.09 64.50,276.03 64.73,275.98 64.96,275.93 65.20,275.87 65.43,275.82 65.66,275.76 65.90,275.71 66.13,275.65 66.36,275.59 66.59,275.53 66.82,275.47 67.05,275.41 67.28,275.34 67.51,275.28 67.74,275.21 67.97,275.15 68.20,275.08 68.43,275.02 68.66,274.95 68.89,274.88 69.12,274.81 69.35,274.74 69.57,274.66 69.80,274.59 70.03,274.52 70.26,274.44 70.48,274.37 70.71,274.29 70.93,274.21 71.16,274.13 71.38,274.05 71.61,273.97 71.83,273.89 72.05,273.81 72.28,273.72 72.50,273.64 72.72,273.55 72.94,273.47 73.16,273.38 73.39,273.29 73.61,273.20 73.83,273.11 74.04,273.02 74.26,272.92 74.48,272.83 74.70,272.74 74.92,272.64 75.13,272.54 75.35,272.45 75.57,272.35 75.78,272.25 76.00,272.15 76.21,272.05 76.42,271.94 76.64,271.84 76.85,271.73 77.06,271.63 77.27,271.52 77.48,271.41 77.69,271.30 77.90,271.19 78.11,271.08 78.32,270.97 78.53,270.86 78.73,270.74 78.94,270.63 79.15,270.51 79.35,270.40 79.56,270.28 79.76,270.16 79.96,270.04 80.17,269.92 80.37,269.79 80.57,269.67 80.77,269.55 80.97,269.42 81.17,269.29 81.37,269.17 81.56,269.04 81.76,268.91 81.96,268.78 82.15,268.64 82.35,268.51 82.54,268.38 82.73,268.24 82.92,268.10 83.12,267.97 83.31,267.83 83.50,267.69 83.69,267.55 83.87,267.41 84.06,267.26 84.25,267.12 84.43,266.97 84.62,266.83 84.80,266.68 84.99,266.53 85.17,266.38 85.35,266.23 85.53,266.08 85.71,265.93 85.89,265.77 86.07,265.62 86.25,265.46 86.42,265.31 86.60,265.15 86.77,264.99 86.94,264.83 87.12,264.66 87.29,264.50 87.46,264.34 87.63,264.17 87.80,264.01 87.97,263.84 88.13,263.67 88.30,263.50 88.46,263.33 88.63,263.16 88.79,262.98 88.95,262.81 89.11,262.63 89.27,262.46 89.43,262.28 89.59,262.10 89.75,261.92 89.90,261.74 90.06,261.56 90.21,261.37 90.36,261.19 90.52,261.00 90.67,260.82 90.82,260.63 90.96,260.44 91.11,260.25 91.26,260.05 91.40,259.86 91.55,259.67 91.69,259.47 91.83,259.28 91.97,259.08 92.11,258.88" fill="none" stroke="#3d7fc4" stroke-width="1.4" stroke-linejoin="round" stroke-linecap="round"/>
<rect x="50.6" y="197.3" width="164.1" height="123.19999999999999" fill="none" stroke="#1a1a1a" stroke-width="1.5"/>
<line x1="50.60" y1="258.90" x2="214.70" y2="258.90" stroke="#1a1a1a" stroke-width="1.5"/>
<line x1="48.40" y1="197.30" x2="50.60" y2="197.30" stroke="#222" stroke-width="1.1"/>
<text x="48.00" y="200.90" font-size="10.2" text-anchor="end" fill="#222" stroke="#222" stroke-width="0.22" font-weight="bold" font-family='"Liberation Sans", sans-serif'>4.8</text>
<line x1="48.40" y1="214.04" x2="50.60" y2="214.04" stroke="#222" stroke-width="1.1"/>
<text x="48.00" y="217.64" font-size="10.2" text-anchor="end" fill="#222" stroke="#222" stroke-width="0.22" font-weight="bold" font-family='"Liberation Sans", sans-serif'>4.2</text>
<line x1="48.40" y1="230.78" x2="50.60" y2="230.78" stroke="#222" stroke-width="1.1"/>
<text x="48.00" y="234.38" font-size="10.2" text-anchor="end" fill="#222" stroke="#222" stroke-width="0.22" font-weight="bold" font-family='"Liberation Sans", sans-serif'>3.6</text>
<line x1="48.40" y1="247.52" x2="50.60" y2="247.52" stroke="#222" stroke-width="1.1"/>
<text x="48.00" y="251.12" font-size="10.2" text-anchor="end" fill="#222" stroke="#222" stroke-width="0.22" font-weight="bold" font-family='"Liberation Sans", sans-serif'>3.0</text>
<line x1="49.30" y1="205.67" x2="50.60" y2="205.67" stroke="#222" stroke-width="0.9"/>
<line x1="49.30" y1="222.41" x2="50.60" y2="222.41" stroke="#222" stroke-width="0.9"/>
<line x1="49.30" y1="239.15" x2="50.60" y2="239.15" stroke="#222" stroke-width="0.9"/>
<line x1="49.30" y1="255.89" x2="50.60" y2="255.89" stroke="#222" stroke-width="0.9"/>
<line x1="48.40" y1="258.90" x2="50.60" y2="258.90" stroke="#222" stroke-width="1.1"/>
<text x="48.00" y="262.50" font-size="10.2" text-anchor="end" fill="#222" stroke="#222" stroke-width="0.22" font-weight="bold" font-family='"Liberation Sans", sans-serif'>4.8</text>
<line x1="48.40" y1="275.64" x2="50.60" y2="275.64" stroke="#222" stroke-width="1.1"/>
<text x="48.00" y="279.24" font-size="10.2" text-anchor="end" fill="#222" stroke="#222" stroke-width="0.22" font-weight="bold" font-family='"Liberation Sans", sans-serif'>4.2</text>
<line x1="48.40" y1="292.38" x2="50.60" y2="292.38" stroke="#222" stroke-width="1.1"/>
<text x="48.00" y="295.98" font-size="10.2" text-anchor="end" fill="#222" stroke="#222" stroke-width="0.22" font-weight="bold" font-family='"Liberation Sans", sans-serif'>3.6</text>
<line x1="48.40" y1="309.12" x2="50.60" y2="309.12" stroke="#222" stroke-width="1.1"/>
<text x="48.00" y="312.72" font-size="10.2" text-anchor="end" fill="#222" stroke="#222" stroke-width="0.22" font-weight="bold" font-family='"Liberation Sans", sans-serif'>3.0</text>
<line x1="49.30" y1="267.27" x2="50.60" y2="267.27" stroke="#222" stroke-width="0.9"/>
<line x1="49.30" y1="284.01" x2="50.60" y2="284.01" stroke="#222" stroke-width="0.9"/>
<line x1="49.30" y1="300.75" x2="50.60" y2="300.75" stroke="#222" stroke-width="0.9"/>
<line x1="49.30" y1="317.49" x2="50.60" y2="317.49" stroke="#222" stroke-width="0.9"/>
<line x1="50.60" y1="320.50" x2="50.60" y2="322.70" stroke="#222" stroke-width="1.1"/>
<text x="50.60" y="332.20" font-size="10.2" text-anchor="middle" fill="#222" stroke="#222" stroke-width="0.22" font-weight="bold" font-family='"Liberation Sans", sans-serif'>0</text>
<line x1="83.42" y1="320.50" x2="83.42" y2="322.70" stroke="#222" stroke-width="1.1"/>
<text x="83.42" y="332.20" font-size="10.2" text-anchor="middle" fill="#222" stroke="#222" stroke-width="0.22" font-weight="bold" font-family='"Liberation Sans", sans-serif'>50</text>
<line x1="116.24" y1="320.50" x2="116.24" y2="322.70" stroke="#222" stroke-width="1.1"/>
<text x="116.24" y="332.20" font-size="10.2" text-anchor="middle" fill="#222" stroke="#222" stroke-width="0.22" font-weight="bold" font-family='"Liberation Sans", sans-serif'>100</text>
<line x1="149.06" y1="320.50" x2="149.06" y2="322.70" stroke="#222" stroke-width="1.1"/>
<text x="149.06" y="332.20" font-size="10.2" text-anchor="middle" fill="#222" stroke="#222" stroke-width="0.22" font-weight="bold" font-family='"Liberation Sans", sans-serif'>150</text>
<line x1="181.88" y1="320.50" x2="181.88" y2="322.70" stroke="#222" stroke-width="1.1"/>
<text x="181.88" y="332.20" font-size="10.2" text-anchor="middle" fill="#222" stroke="#222" stroke-width="0.22" font-weight="bold" font-family='"Liberation Sans", sans-serif'>200</text>
<line x1="214.70" y1="320.50" x2="214.70" y2="322.70" stroke="#222" stroke-width="1.1"/>
<text x="214.70" y="332.20" font-size="10.2" text-anchor="middle" fill="#222" stroke="#222" stroke-width="0.22" font-weight="bold" font-family='"Liberation Sans", sans-serif'>250</text>
<line x1="67.01" y1="320.50" x2="67.01" y2="321.80" stroke="#222" stroke-width="0.9"/>
<line x1="99.83" y1="320.50" x2="99.83" y2="321.80" stroke="#222" stroke-width="0.9"/>
<line x1="132.65" y1="320.50" x2="132.65" y2="321.80" stroke="#222" stroke-width="0.9"/>
<line x1="165.47" y1="320.50" x2="165.47" y2="321.80" stroke="#222" stroke-width="0.9"/>
<line x1="198.29" y1="320.50" x2="198.29" y2="321.80" stroke="#222" stroke-width="0.9"/>
<text x="65.40" y="347.60" font-size="11.0" text-anchor="start" fill="#222" stroke="#222" stroke-width="0.22" font-weight="bold" font-family='"Liberation Sans", sans-serif'>Specific capacity (mAh g<tspan font-size="6.82" dy="-4.18">-1</tspan><tspan dy="4.18">&#8203;</tspan>)</text>
<text x="24.00" y="316.00" font-size="10.95" text-anchor="start" fill="#222" stroke="#222" stroke-width="0.22" font-weight="bold" font-family='"Liberation Sans", sans-serif' transform="rotate(-90 24.00 316.00)">Potential (V vs. Li/Li<tspan font-size="6.82" dy="-4.18">+</tspan><tspan dy="4.18">&#8203;</tspan>)</text>
<text x="164.80" y="219.90" font-size="9.3" text-anchor="start" fill="#222" stroke="#222" stroke-width="0.22" font-weight="bold" font-family='"Liberation Sans", sans-serif'>Li<tspan font-size="4.65" dy="2.79">3</tspan><tspan dy="-2.79">&#8203;</tspan>InCl<tspan font-size="4.65" dy="2.79">4.8</tspan><tspan dy="-2.79">&#8203;</tspan>F<tspan font-size="4.65" dy="2.79">1.2</tspan><tspan dy="-2.79">&#8203;</tspan></text>
<text x="179.40" y="284.60" font-size="9.3" text-anchor="start" fill="#222" stroke="#222" stroke-width="0.22" font-weight="bold" font-family='"Liberation Sans", sans-serif'>Li<tspan font-size="4.65" dy="2.79">3</tspan><tspan dy="-2.79">&#8203;</tspan>InCl<tspan font-size="4.65" dy="2.79">6</tspan><tspan dy="-2.79">&#8203;</tspan></text>
<text x="108.20" y="249.30" font-size="6.55" text-anchor="start" fill="#3d7fc4" stroke="#3d7fc4" stroke-width="0.22" font-weight="bold" font-family='"Liberation Sans", sans-serif'>20<tspan font-size="4.06" dy="-2.49">th</tspan><tspan dy="2.49">&#8203;</tspan>:0.125</text>
<text x="151.40" y="249.30" font-size="6.55" text-anchor="start" fill="#d6404e" stroke="#d6404e" stroke-width="0.22" font-weight="bold" font-family='"Liberation Sans", sans-serif'>10<tspan font-size="4.06" dy="-2.49">th</tspan><tspan dy="2.49">&#8203;</tspan>:0.125</text>
<text x="187.00" y="249.30" font-size="6.55" text-anchor="start" fill="#555" stroke="#555" stroke-width="0.22" font-weight="bold" font-family='"Liberation Sans", sans-serif'>1<tspan font-size="4.06" dy="-2.49">st</tspan><tspan dy="2.49">&#8203;</tspan>:0.063</text>
<text x="52.50" y="309.00" font-size="6.55" text-anchor="start" fill="#3d7fc4" stroke="#3d7fc4" stroke-width="0.22" font-weight="bold" font-family='"Liberation Sans", sans-serif'>20<tspan font-size="4.06" dy="-2.49">th</tspan><tspan dy="2.49">&#8203;</tspan>:0.125</text>
<text x="110.90" y="309.00" font-size="6.55" text-anchor="start" fill="#d6404e" stroke="#d6404e" stroke-width="0.22" font-weight="bold" font-family='"Liberation Sans", sans-serif'>10<tspan font-size="4.06" dy="-2.49">th</tspan><tspan dy="2.49">&#8203;</tspan>:0.125</text>
<text x="180.50" y="309.50" font-size="6.55" text-anchor="start" fill="#555" stroke="#555" stroke-width="0.22" font-weight="bold" font-family='"Liberation Sans", sans-serif'>1<tspan font-size="4.06" dy="-2.49">st</tspan><tspan dy="2.49">&#8203;</tspan>:0.063</text>
<text x="51.80" y="257.80" font-size="6.6" text-anchor="start" fill="#222" stroke="#222" stroke-width="0.22" font-weight="bold" font-family='"Liberation Sans", sans-serif' font-style="italic">Unit: mA cm<tspan font-size="4.09" dy="-2.51">-2</tspan><tspan dy="2.51">&#8203;</tspan></text>
<text x="51.80" y="318.60" font-size="6.6" text-anchor="start" fill="#222" stroke="#222" stroke-width="0.22" font-weight="bold" font-family='"Liberation Sans", sans-serif' font-style="italic">Unit: mA cm<tspan font-size="4.09" dy="-2.51">-2</tspan><tspan dy="2.51">&#8203;</tspan></text>
<text x="242.20" y="194.60" font-size="18.0" text-anchor="start" fill="#222" stroke="#222" stroke-width="0" font-weight="normal" font-family='"Liberation Serif", serif'>(d)</text>
<rect x="285.9" y="198.1" width="220.60000000000002" height="40.30000000000001" fill="#d3d3d3"/>
<line x1="305.00" y1="236.00" x2="305.00" y2="279.00" stroke="#8c8c8c" stroke-width="1.0" stroke-dasharray="2.4,2.2"/>
<circle cx="293.40" cy="213.80" r="2.2" fill="#3a46a6"/>
<circle cx="296.50" cy="211.60" r="2.2" fill="#3a46a6"/>
<circle cx="299.60" cy="209.50" r="2.2" fill="#3a46a6"/>
<circle cx="302.70" cy="208.90" r="2.2" fill="#3a46a6"/>
<circle cx="305.80" cy="216.50" r="2.2" fill="#3a46a6"/>
<circle cx="308.90" cy="205.10" r="2.2" fill="#3a46a6"/>
<circle cx="312.00" cy="206.43" r="2.2" fill="#3a46a6"/>
<circle cx="315.10" cy="205.63" r="2.2" fill="#3a46a6"/>
<circle cx="318.20" cy="205.56" r="2.2" fill="#3a46a6"/>
<circle cx="321.30" cy="205.91" r="2.2" fill="#3a46a6"/>
<circle cx="324.40" cy="206.28" r="2.2" fill="#3a46a6"/>
<circle cx="327.50" cy="205.44" r="2.2" fill="#3a46a6"/>
<circle cx="330.60" cy="205.75" r="2.2" fill="#3a46a6"/>
<circle cx="333.70" cy="205.77" r="2.2" fill="#3a46a6"/>
<circle cx="336.80" cy="206.47" r="2.2" fill="#3a46a6"/>
<circle cx="339.90" cy="205.91" r="2.2" fill="#3a46a6"/>
<circle cx="343.00" cy="206.50" r="2.2" fill="#3a46a6"/>
<circle cx="346.10" cy="205.54" r="2.2" fill="#3a46a6"/>
<circle cx="349.20" cy="205.77" r="2.2" fill="#3a46a6"/>
<circle cx="352.30" cy="206.21" r="2.2" fill="#3a46a6"/>
<circle cx="355.40" cy="206.54" r="2.2" fill="#3a46a6"/>
<circle cx="358.50" cy="205.93" r="2.2" fill="#3a46a6"/>
<circle cx="361.60" cy="205.62" r="2.2" fill="#3a46a6"/>
<circle cx="364.70" cy="205.47" r="2.2" fill="#3a46a6"/>
<circle cx="367.80" cy="206.04" r="2.2" fill="#3a46a6"/>
<circle cx="370.90" cy="205.57" r="2.2" fill="#3a46a6"/>
<circle cx="374.00" cy="206.43" r="2.2" fill="#3a46a6"/>
<circle cx="377.10" cy="206.47" r="2.2" fill="#3a46a6"/>
<circle cx="380.20" cy="205.56" r="2.2" fill="#3a46a6"/>
<circle cx="383.30" cy="205.69" r="2.2" fill="#3a46a6"/>
<circle cx="386.40" cy="201.80" r="2.2" fill="#3a46a6"/>
<circle cx="389.50" cy="206.90" r="2.2" fill="#3a46a6"/>
<circle cx="392.60" cy="206.43" r="2.2" fill="#3a46a6"/>
<circle cx="395.70" cy="205.78" r="2.2" fill="#3a46a6"/>
<circle cx="398.80" cy="205.48" r="2.2" fill="#3a46a6"/>
<circle cx="401.90" cy="205.71" r="2.2" fill="#3a46a6"/>
<circle cx="405.00" cy="206.41" r="2.2" fill="#3a46a6"/>
<circle cx="408.10" cy="205.68" r="2.2" fill="#3a46a6"/>
<circle cx="411.20" cy="205.78" r="2.2" fill="#3a46a6"/>
<circle cx="414.30" cy="205.88" r="2.2" fill="#3a46a6"/>
<circle cx="417.40" cy="205.89" r="2.2" fill="#3a46a6"/>
<circle cx="420.50" cy="205.87" r="2.2" fill="#3a46a6"/>
<circle cx="423.60" cy="206.59" r="2.2" fill="#3a46a6"/>
<circle cx="426.70" cy="205.52" r="2.2" fill="#3a46a6"/>
<circle cx="429.80" cy="205.31" r="2.2" fill="#3a46a6"/>
<circle cx="432.90" cy="206.62" r="2.2" fill="#3a46a6"/>
<circle cx="436.00" cy="206.53" r="2.2" fill="#3a46a6"/>
<circle cx="439.10" cy="206.68" r="2.2" fill="#3a46a6"/>
<circle cx="442.20" cy="205.91" r="2.2" fill="#3a46a6"/>
<circle cx="445.30" cy="206.63" r="2.2" fill="#3a46a6"/>
<circle cx="448.40" cy="206.60" r="2.2" fill="#3a46a6"/>
<circle cx="451.50" cy="205.61" r="2.2" fill="#3a46a6"/>
<circle cx="454.60" cy="203.40" r="2.2" fill="#3a46a6"/>
<circle cx="457.70" cy="206.47" r="2.2" fill="#3a46a6"/>
<circle cx="460.80" cy="206.23" r="2.2" fill="#3a46a6"/>
<circle cx="463.90" cy="206.03" r="2.2" fill="#3a46a6"/>
<circle cx="467.00" cy="205.70" r="2.2" fill="#3a46a6"/>
<circle cx="470.10" cy="205.78" r="2.2" fill="#3a46a6"/>
<circle cx="473.20" cy="205.62" r="2.2" fill="#3a46a6"/>
<circle cx="476.30" cy="205.40" r="2.2" fill="#3a46a6"/>
<circle cx="479.40" cy="206.12" r="2.2" fill="#3a46a6"/>
<circle cx="482.50" cy="205.70" r="2.2" fill="#3a46a6"/>
<circle cx="485.60" cy="206.43" r="2.2" fill="#3a46a6"/>
<circle cx="488.70" cy="205.36" r="2.2" fill="#3a46a6"/>
<circle cx="491.80" cy="201.70" r="2.2" fill="#3a46a6"/>
<circle cx="494.90" cy="203.40" r="2.2" fill="#3a46a6"/>
<circle cx="498.00" cy="207.50" r="2.2" fill="#3a46a6"/>
<circle cx="501.10" cy="205.00" r="2.2" fill="#3a46a6"/>
<circle cx="504.20" cy="206.56" r="2.2" fill="#3a46a6"/>
<circle cx="290.30" cy="227.10" r="2.1" fill="#e3262b"/>
<circle cx="293.40" cy="238.90" r="2.1" fill="#e3262b"/>
<circle cx="296.50" cy="242.20" r="2.1" fill="#e3262b"/>
<circle cx="299.60" cy="245.00" r="2.1" fill="#e3262b"/>
<circle cx="302.70" cy="247.30" r="2.1" fill="#e3262b"/>
<circle cx="305.80" cy="253.20" r="2.1" fill="#e3262b"/>
<circle cx="308.90" cy="256.39" r="1.35" fill="#d4414b"/>
<circle cx="312.00" cy="257.05" r="1.35" fill="#d4414b"/>
<circle cx="315.10" cy="257.87" r="1.35" fill="#d4414b"/>
<circle cx="318.20" cy="258.69" r="1.35" fill="#d4414b"/>
<circle cx="321.30" cy="259.26" r="1.35" fill="#d4414b"/>
<circle cx="324.40" cy="259.83" r="1.35" fill="#d4414b"/>
<circle cx="327.50" cy="260.40" r="1.35" fill="#d4414b"/>
<circle cx="330.60" cy="260.95" r="1.35" fill="#d4414b"/>
<circle cx="333.70" cy="261.39" r="1.35" fill="#d4414b"/>
<circle cx="336.80" cy="261.83" r="1.35" fill="#d4414b"/>
<circle cx="339.90" cy="262.28" r="1.35" fill="#d4414b"/>
<circle cx="343.00" cy="262.72" r="1.35" fill="#d4414b"/>
<circle cx="346.10" cy="263.16" r="1.35" fill="#d4414b"/>
<circle cx="349.20" cy="263.61" r="1.35" fill="#d4414b"/>
<circle cx="352.30" cy="264.00" r="1.35" fill="#d4414b"/>
<circle cx="355.40" cy="264.40" r="1.35" fill="#d4414b"/>
<circle cx="358.50" cy="264.79" r="1.35" fill="#d4414b"/>
<circle cx="361.60" cy="265.19" r="1.35" fill="#d4414b"/>
<circle cx="364.70" cy="265.58" r="1.35" fill="#d4414b"/>
<circle cx="367.80" cy="265.98" r="1.35" fill="#d4414b"/>
<circle cx="370.90" cy="266.37" r="1.35" fill="#d4414b"/>
<circle cx="374.00" cy="266.77" r="1.35" fill="#d4414b"/>
<circle cx="377.10" cy="267.18" r="1.35" fill="#d4414b"/>
<circle cx="380.20" cy="267.60" r="1.35" fill="#d4414b"/>
<circle cx="383.30" cy="268.02" r="1.35" fill="#d4414b"/>
<circle cx="386.40" cy="268.44" r="1.35" fill="#d4414b"/>
<circle cx="389.50" cy="268.86" r="1.35" fill="#d4414b"/>
<circle cx="392.60" cy="269.28" r="1.35" fill="#d4414b"/>
<circle cx="395.70" cy="269.70" r="1.35" fill="#d4414b"/>
<circle cx="398.80" cy="270.12" r="1.35" fill="#d4414b"/>
<circle cx="401.90" cy="270.48" r="1.35" fill="#d4414b"/>
<circle cx="405.00" cy="270.83" r="1.35" fill="#d4414b"/>
<circle cx="408.10" cy="271.18" r="1.35" fill="#d4414b"/>
<circle cx="411.20" cy="271.54" r="1.35" fill="#d4414b"/>
<circle cx="414.30" cy="271.89" r="1.35" fill="#d4414b"/>
<circle cx="417.40" cy="272.24" r="1.35" fill="#d4414b"/>
<circle cx="420.50" cy="272.53" r="1.35" fill="#d4414b"/>
<circle cx="423.60" cy="272.76" r="1.35" fill="#d4414b"/>
<circle cx="426.70" cy="272.99" r="1.35" fill="#d4414b"/>
<circle cx="429.80" cy="273.22" r="1.35" fill="#d4414b"/>
<circle cx="432.90" cy="273.45" r="1.35" fill="#d4414b"/>
<circle cx="436.00" cy="273.68" r="1.35" fill="#d4414b"/>
<circle cx="439.10" cy="273.91" r="1.35" fill="#d4414b"/>
<circle cx="442.20" cy="274.14" r="1.35" fill="#d4414b"/>
<circle cx="445.30" cy="274.17" r="1.35" fill="#d4414b"/>
<circle cx="448.40" cy="274.20" r="1.35" fill="#d4414b"/>
<circle cx="451.50" cy="274.22" r="1.35" fill="#d4414b"/>
<circle cx="454.60" cy="274.47" r="1.35" fill="#d4414b"/>
<circle cx="457.70" cy="276.31" r="1.35" fill="#d4414b"/>
<circle cx="460.80" cy="276.56" r="1.35" fill="#d4414b"/>
<circle cx="463.90" cy="276.81" r="1.35" fill="#d4414b"/>
<circle cx="467.00" cy="277.05" r="1.35" fill="#d4414b"/>
<circle cx="470.10" cy="277.30" r="1.35" fill="#d4414b"/>
<circle cx="473.20" cy="277.55" r="1.35" fill="#d4414b"/>
<circle cx="476.30" cy="277.75" r="1.35" fill="#d4414b"/>
<circle cx="479.40" cy="277.95" r="1.35" fill="#d4414b"/>
<circle cx="482.50" cy="278.16" r="1.35" fill="#d4414b"/>
<circle cx="485.60" cy="278.37" r="1.35" fill="#d4414b"/>
<circle cx="488.70" cy="278.57" r="1.35" fill="#d4414b"/>
<circle cx="491.80" cy="278.78" r="1.35" fill="#d4414b"/>
<circle cx="494.90" cy="278.98" r="1.35" fill="#d4414b"/>
<circle cx="498.00" cy="279.19" r="1.35" fill="#d4414b"/>
<circle cx="501.10" cy="279.39" r="1.35" fill="#d4414b"/>
<circle cx="504.20" cy="279.60" r="1.35" fill="#d4414b"/>
<circle cx="290.30" cy="237.46" r="1.3" fill="#fff" stroke="#d03c46" stroke-width="1.15"/>
<circle cx="293.40" cy="241.40" r="1.3" fill="#fff" stroke="#d03c46" stroke-width="1.15"/>
<circle cx="296.50" cy="244.84" r="1.3" fill="#fff" stroke="#d03c46" stroke-width="1.15"/>
<circle cx="299.60" cy="247.01" r="1.3" fill="#fff" stroke="#d03c46" stroke-width="1.15"/>
<circle cx="302.70" cy="249.84" r="1.3" fill="#fff" stroke="#d03c46" stroke-width="1.15"/>
<circle cx="305.80" cy="256.03" r="1.3" fill="#fff" stroke="#d03c46" stroke-width="1.15"/>
<circle cx="308.90" cy="256.69" r="1.3" fill="#fff" stroke="#d03c46" stroke-width="1.15"/>
<circle cx="312.00" cy="257.35" r="1.3" fill="#fff" stroke="#d03c46" stroke-width="1.15"/>
<circle cx="315.10" cy="258.17" r="1.3" fill="#fff" stroke="#d03c46" stroke-width="1.15"/>
<circle cx="318.20" cy="258.99" r="1.3" fill="#fff" stroke="#d03c46" stroke-width="1.15"/>
<circle cx="321.30" cy="259.56" r="1.3" fill="#fff" stroke="#d03c46" stroke-width="1.15"/>
<circle cx="324.40" cy="260.13" r="1.3" fill="#fff" stroke="#d03c46" stroke-width="1.15"/>
<circle cx="327.50" cy="260.70" r="1.3" fill="#fff" stroke="#d03c46" stroke-width="1.15"/>
<circle cx="330.60" cy="261.25" r="1.3" fill="#fff" stroke="#d03c46" stroke-width="1.15"/>
<circle cx="333.70" cy="261.69" r="1.3" fill="#fff" stroke="#d03c46" stroke-width="1.15"/>
<circle cx="336.80" cy="262.13" r="1.3" fill="#fff" stroke="#d03c46" stroke-width="1.15"/>
<circle cx="339.90" cy="262.58" r="1.3" fill="#fff" stroke="#d03c46" stroke-width="1.15"/>
<circle cx="343.00" cy="263.02" r="1.3" fill="#fff" stroke="#d03c46" stroke-width="1.15"/>
<circle cx="346.10" cy="263.46" r="1.3" fill="#fff" stroke="#d03c46" stroke-width="1.15"/>
<circle cx="349.20" cy="263.91" r="1.3" fill="#fff" stroke="#d03c46" stroke-width="1.15"/>
<circle cx="352.30" cy="264.30" r="1.3" fill="#fff" stroke="#d03c46" stroke-width="1.15"/>
<circle cx="355.40" cy="264.70" r="1.3" fill="#fff" stroke="#d03c46" stroke-width="1.15"/>
<circle cx="358.50" cy="265.09" r="1.3" fill="#fff" stroke="#d03c46" stroke-width="1.15"/>
<circle cx="361.60" cy="265.49" r="1.3" fill="#fff" stroke="#d03c46" stroke-width="1.15"/>
<circle cx="364.70" cy="265.88" r="1.3" fill="#fff" stroke="#d03c46" stroke-width="1.15"/>
<circle cx="367.80" cy="266.28" r="1.3" fill="#fff" stroke="#d03c46" stroke-width="1.15"/>
<circle cx="370.90" cy="266.67" r="1.3" fill="#fff" stroke="#d03c46" stroke-width="1.15"/>
<circle cx="374.00" cy="267.07" r="1.3" fill="#fff" stroke="#d03c46" stroke-width="1.15"/>
<circle cx="377.10" cy="267.48" r="1.3" fill="#fff" stroke="#d03c46" stroke-width="1.15"/>
<circle cx="380.20" cy="267.90" r="1.3" fill="#fff" stroke="#d03c46" stroke-width="1.15"/>
<circle cx="383.30" cy="268.32" r="1.3" fill="#fff" stroke="#d03c46" stroke-width="1.15"/>
<circle cx="386.40" cy="268.74" r="1.3" fill="#fff" stroke="#d03c46" stroke-width="1.15"/>
<circle cx="389.50" cy="269.16" r="1.3" fill="#fff" stroke="#d03c46" stroke-width="1.15"/>
<circle cx="392.60" cy="269.58" r="1.3" fill="#fff" stroke="#d03c46" stroke-width="1.15"/>
<circle cx="395.70" cy="270.00" r="1.3" fill="#fff" stroke="#d03c46" stroke-width="1.15"/>
<circle cx="398.80" cy="270.42" r="1.3" fill="#fff" stroke="#d03c46" stroke-width="1.15"/>
<circle cx="401.90" cy="270.78" r="1.3" fill="#fff" stroke="#d03c46" stroke-width="1.15"/>
<circle cx="405.00" cy="271.13" r="1.3" fill="#fff" stroke="#d03c46" stroke-width="1.15"/>
<circle cx="408.10" cy="271.48" r="1.3" fill="#fff" stroke="#d03c46" stroke-width="1.15"/>
<circle cx="411.20" cy="271.84" r="1.3" fill="#fff" stroke="#d03c46" stroke-width="1.15"/>
<circle cx="414.30" cy="272.19" r="1.3" fill="#fff" stroke="#d03c46" stroke-width="1.15"/>
<circle cx="417.40" cy="272.54" r="1.3" fill="#fff" stroke="#d03c46" stroke-width="1.15"/>
<circle cx="420.50" cy="272.83" r="1.3" fill="#fff" stroke="#d03c46" stroke-width="1.15"/>
<circle cx="423.60" cy="273.06" r="1.3" fill="#fff" stroke="#d03c46" stroke-width="1.15"/>
<circle cx="426.70" cy="273.29" r="1.3" fill="#fff" stroke="#d03c46" stroke-width="1.15"/>
<circle cx="429.80" cy="273.52" r="1.3" fill="#fff" stroke="#d03c46" stroke-width="1.15"/>
<circle cx="432.90" cy="273.75" r="1.3" fill="#fff" stroke="#d03c46" stroke-width="1.15"/>
<circle cx="436.00" cy="273.98" r="1.3" fill="#fff" stroke="#d03c46" stroke-width="1.15"/>
<circle cx="439.10" cy="274.21" r="1.3" fill="#fff" stroke="#d03c46" stroke-width="1.15"/>
<circle cx="442.20" cy="274.44" r="1.3" fill="#fff" stroke="#d03c46" stroke-width="1.15"/>
<circle cx="445.30" cy="274.47" r="1.3" fill="#fff" stroke="#d03c46" stroke-width="1.15"/>
<circle cx="448.40" cy="274.50" r="1.3" fill="#fff" stroke="#d03c46" stroke-width="1.15"/>
<circle cx="451.50" cy="274.52" r="1.3" fill="#fff" stroke="#d03c46" stroke-width="1.15"/>
<circle cx="454.60" cy="274.77" r="1.3" fill="#fff" stroke="#d03c46" stroke-width="1.15"/>
<circle cx="457.70" cy="276.62" r="1.3" fill="#fff" stroke="#d03c46" stroke-width="1.15"/>
<circle cx="460.80" cy="276.86" r="1.3" fill="#fff" stroke="#d03c46" stroke-width="1.15"/>
<circle cx="463.90" cy="277.11" r="1.3" fill="#fff" stroke="#d03c46" stroke-width="1.15"/>
<circle cx="467.00" cy="277.35" r="1.3" fill="#fff" stroke="#d03c46" stroke-width="1.15"/>
<circle cx="470.10" cy="277.60" r="1.3" fill="#fff" stroke="#d03c46" stroke-width="1.15"/>
<circle cx="473.20" cy="277.85" r="1.3" fill="#fff" stroke="#d03c46" stroke-width="1.15"/>
<circle cx="476.30" cy="278.05" r="1.3" fill="#fff" stroke="#d03c46" stroke-width="1.15"/>
<circle cx="479.40" cy="278.25" r="1.3" fill="#fff" stroke="#d03c46" stroke-width="1.15"/>
<circle cx="482.50" cy="278.46" r="1.3" fill="#fff" stroke="#d03c46" stroke-width="1.15"/>
<circle cx="485.60" cy="278.67" r="1.3" fill="#fff" stroke="#d03c46" stroke-width="1.15"/>
<circle cx="488.70" cy="278.87" r="1.3" fill="#fff" stroke="#d03c46" stroke-width="1.15"/>
<circle cx="491.80" cy="279.08" r="1.3" fill="#fff" stroke="#d03c46" stroke-width="1.15"/>
<circle cx="494.90" cy="279.28" r="1.3" fill="#fff" stroke="#d03c46" stroke-width="1.15"/>
<circle cx="498.00" cy="279.49" r="1.3" fill="#fff" stroke="#d03c46" stroke-width="1.15"/>
<circle cx="501.10" cy="279.69" r="1.3" fill="#fff" stroke="#d03c46" stroke-width="1.15"/>
<circle cx="504.20" cy="279.90" r="1.3" fill="#fff" stroke="#d03c46" stroke-width="1.15"/>
<circle cx="290.30" cy="235.5" r="2.2" fill="#3a46a6"/>
<path d="M506.5 198.1 L285.9 198.1 L285.9 321.1 L506.5 321.1" fill="none" stroke="#1a1a1a" stroke-width="1.5"/>
<line x1="506.50" y1="197.40" x2="506.50" y2="321.80" stroke="#3a44a0" stroke-width="1.5"/>
<line x1="283.70" y1="321.10" x2="285.90" y2="321.10" stroke="#222" stroke-width="1.1"/>
<text x="280.60" y="324.70" font-size="10.2" text-anchor="end" fill="#222" stroke="#222" stroke-width="0.22" font-weight="bold" font-family='"Liberation Sans", sans-serif'>0</text>
<line x1="283.70" y1="300.60" x2="285.90" y2="300.60" stroke="#222" stroke-width="1.1"/>
<text x="280.60" y="304.20" font-size="10.2" text-anchor="end" fill="#222" stroke="#222" stroke-width="0.22" font-weight="bold" font-family='"Liberation Sans", sans-serif'>50</text>
<line x1="283.70" y1="280.10" x2="285.90" y2="280.10" stroke="#222" stroke-width="1.1"/>
<text x="280.60" y="283.70" font-size="10.2" text-anchor="end" fill="#222" stroke="#222" stroke-width="0.22" font-weight="bold" font-family='"Liberation Sans", sans-serif'>100</text>
<line x1="283.70" y1="259.60" x2="285.90" y2="259.60" stroke="#222" stroke-width="1.1"/>
<text x="280.60" y="263.20" font-size="10.2" text-anchor="end" fill="#222" stroke="#222" stroke-width="0.22" font-weight="bold" font-family='"Liberation Sans", sans-serif'>150</text>
<line x1="283.70" y1="239.10" x2="285.90" y2="239.10" stroke="#222" stroke-width="1.1"/>
<text x="280.60" y="242.70" font-size="10.2" text-anchor="end" fill="#222" stroke="#222" stroke-width="0.22" font-weight="bold" font-family='"Liberation Sans", sans-serif'>200</text>
<line x1="283.70" y1="218.60" x2="285.90" y2="218.60" stroke="#222" stroke-width="1.1"/>
<text x="280.60" y="222.20" font-size="10.2" text-anchor="end" fill="#222" stroke="#222" stroke-width="0.22" font-weight="bold" font-family='"Liberation Sans", sans-serif'>250</text>
<line x1="283.70" y1="198.10" x2="285.90" y2="198.10" stroke="#222" stroke-width="1.1"/>
<text x="280.60" y="201.70" font-size="10.2" text-anchor="end" fill="#222" stroke="#222" stroke-width="0.22" font-weight="bold" font-family='"Liberation Sans", sans-serif'>300</text>
<line x1="284.60" y1="310.85" x2="285.90" y2="310.85" stroke="#222" stroke-width="0.9"/>
<line x1="284.60" y1="290.35" x2="285.90" y2="290.35" stroke="#222" stroke-width="0.9"/>
<line x1="284.60" y1="269.85" x2="285.90" y2="269.85" stroke="#222" stroke-width="0.9"/>
<line x1="284.60" y1="249.35" x2="285.90" y2="249.35" stroke="#222" stroke-width="0.9"/>
<line x1="284.60" y1="228.85" x2="285.90" y2="228.85" stroke="#222" stroke-width="0.9"/>
<line x1="284.60" y1="208.35" x2="285.90" y2="208.35" stroke="#222" stroke-width="0.9"/>
<line x1="287.20" y1="321.10" x2="287.20" y2="323.30" stroke="#222" stroke-width="1.1"/>
<text x="287.70" y="333.60" font-size="10.2" text-anchor="middle" fill="#222" stroke="#222" stroke-width="0.22" font-weight="bold" font-family='"Liberation Sans", sans-serif'>0</text>
<line x1="318.20" y1="321.10" x2="318.20" y2="323.30" stroke="#222" stroke-width="1.1"/>
<text x="318.70" y="333.60" font-size="10.2" text-anchor="middle" fill="#222" stroke="#222" stroke-width="0.22" font-weight="bold" font-family='"Liberation Sans", sans-serif'>10</text>
<line x1="349.20" y1="321.10" x2="349.20" y2="323.30" stroke="#222" stroke-width="1.1"/>
<text x="349.70" y="333.60" font-size="10.2" text-anchor="middle" fill="#222" stroke="#222" stroke-width="0.22" font-weight="bold" font-family='"Liberation Sans", sans-serif'>20</text>
<line x1="380.20" y1="321.10" x2="380.20" y2="323.30" stroke="#222" stroke-width="1.1"/>
<text x="380.70" y="333.60" font-size="10.2" text-anchor="middle" fill="#222" stroke="#222" stroke-width="0.22" font-weight="bold" font-family='"Liberation Sans", sans-serif'>30</text>
<line x1="411.20" y1="321.10" x2="411.20" y2="323.30" stroke="#222" stroke-width="1.1"/>
<text x="411.70" y="333.60" font-size="10.2" text-anchor="middle" fill="#222" stroke="#222" stroke-width="0.22" font-weight="bold" font-family='"Liberation Sans", sans-serif'>40</text>
<line x1="442.20" y1="321.10" x2="442.20" y2="323.30" stroke="#222" stroke-width="1.1"/>
<text x="442.70" y="333.60" font-size="10.2" text-anchor="middle" fill="#222" stroke="#222" stroke-width="0.22" font-weight="bold" font-family='"Liberation Sans", sans-serif'>50</text>
<line x1="473.20" y1="321.10" x2="473.20" y2="323.30" stroke="#222" stroke-width="1.1"/>
<text x="473.70" y="333.60" font-size="10.2" text-anchor="middle" fill="#222" stroke="#222" stroke-width="0.22" font-weight="bold" font-family='"Liberation Sans", sans-serif'>60</text>
<line x1="504.20" y1="321.10" x2="504.20" y2="323.30" stroke="#222" stroke-width="1.1"/>
<text x="504.70" y="333.60" font-size="10.2" text-anchor="middle" fill="#222" stroke="#222" stroke-width="0.22" font-weight="bold" font-family='"Liberation Sans", sans-serif'>70</text>
<line x1="302.70" y1="321.10" x2="302.70" y2="322.40" stroke="#222" stroke-width="0.9"/>
<line x1="333.70" y1="321.10" x2="333.70" y2="322.40" stroke="#222" stroke-width="0.9"/>
<line x1="364.70" y1="321.10" x2="364.70" y2="322.40" stroke="#222" stroke-width="0.9"/>
<line x1="395.70" y1="321.10" x2="395.70" y2="322.40" stroke="#222" stroke-width="0.9"/>
<line x1="426.70" y1="321.10" x2="426.70" y2="322.40" stroke="#222" stroke-width="0.9"/>
<line x1="457.70" y1="321.10" x2="457.70" y2="322.40" stroke="#222" stroke-width="0.9"/>
<line x1="488.70" y1="321.10" x2="488.70" y2="322.40" stroke="#222" stroke-width="0.9"/>
<line x1="506.50" y1="320.70" x2="508.90" y2="320.70" stroke="#3a44a0" stroke-width="1.1"/>
<text x="511.20" y="324.30" font-size="10.2" text-anchor="start" fill="#2f3a8f" stroke="#2f3a8f" stroke-width="0.22" font-weight="bold" font-family='"Liberation Sans", sans-serif'>60</text>
<line x1="506.50" y1="291.40" x2="508.90" y2="291.40" stroke="#3a44a0" stroke-width="1.1"/>
<text x="511.20" y="295.00" font-size="10.2" text-anchor="start" fill="#2f3a8f" stroke="#2f3a8f" stroke-width="0.22" font-weight="bold" font-family='"Liberation Sans", sans-serif'>70</text>
<line x1="506.50" y1="262.10" x2="508.90" y2="262.10" stroke="#3a44a0" stroke-width="1.1"/>
<text x="511.20" y="265.70" font-size="10.2" text-anchor="start" fill="#2f3a8f" stroke="#2f3a8f" stroke-width="0.22" font-weight="bold" font-family='"Liberation Sans", sans-serif'>80</text>
<line x1="506.50" y1="232.80" x2="508.90" y2="232.80" stroke="#3a44a0" stroke-width="1.1"/>
<text x="511.20" y="236.40" font-size="10.2" text-anchor="start" fill="#2f3a8f" stroke="#2f3a8f" stroke-width="0.22" font-weight="bold" font-family='"Liberation Sans", sans-serif'>90</text>
<line x1="506.50" y1="203.50" x2="508.90" y2="203.50" stroke="#3a44a0" stroke-width="1.1"/>
<text x="511.20" y="207.10" font-size="10.2" text-anchor="start" fill="#2f3a8f" stroke="#2f3a8f" stroke-width="0.22" font-weight="bold" font-family='"Liberation Sans", sans-serif'>100</text>
<line x1="506.50" y1="306.05" x2="507.90" y2="306.05" stroke="#3a44a0" stroke-width="0.9"/>
<line x1="506.50" y1="276.75" x2="507.90" y2="276.75" stroke="#3a44a0" stroke-width="0.9"/>
<line x1="506.50" y1="247.45" x2="507.90" y2="247.45" stroke="#3a44a0" stroke-width="0.9"/>
<line x1="506.50" y1="218.15" x2="507.90" y2="218.15" stroke="#3a44a0" stroke-width="0.9"/>
<text x="360.40" y="347.50" font-size="10.75" text-anchor="start" fill="#222" stroke="#222" stroke-width="0.22" font-weight="bold" font-family='"Liberation Sans", sans-serif'>Cycle number</text>
<text x="257.00" y="307.10" font-size="10.8" text-anchor="start" fill="#222" stroke="#222" stroke-width="0.22" font-weight="bold" font-family='"Liberation Sans", sans-serif' transform="rotate(-90 257.00 307.10)">Capacity (mAh g<tspan font-size="6.70" dy="-4.10">-1</tspan><tspan dy="4.10">&#8203;</tspan>)</text>
<text x="539.20" y="333.10" font-size="10.77" text-anchor="start" fill="#2f3a8f" stroke="#2f3a8f" stroke-width="0.22" font-weight="bold" font-family='"Liberation Sans", sans-serif' transform="rotate(-90 539.20 333.10)">Coulombic Efficiency (100%)</text>
<path d="M470.3 209 L470.3 225.9 L498.5 225.9" fill="none" stroke="#4a50b2" stroke-width="1.1"/>
<path d="M501.5 225.9 L496 224 L496 227.8 Z" fill="#4a50b2"/>
<text x="306.30" y="249.00" font-size="8.2" text-anchor="start" fill="#7c7c7c" stroke="#7c7c7c" stroke-width="0.22" font-weight="bold" font-family='"Liberation Sans", sans-serif'>0.125mA cm<tspan font-size="5.08" dy="-3.12">-2</tspan><tspan dy="3.12">&#8203;</tspan>@RT</text>
<rect x="288.9" y="283.6" width="56.8" height="13.0" fill="#dadada" stroke="#444" stroke-width="1.3"/>
<text x="289.60" y="293.70" font-size="8.5" text-anchor="start" fill="#111" stroke="#111" stroke-width="0.22" font-weight="bold" font-family='"Liberation Sans", sans-serif'>4.8V vs. Li/Li<tspan font-size="5.27" dy="-3.23">+</tspan><tspan dy="3.23">&#8203;</tspan></text>
<circle cx="294.2" cy="303.8" r="2.1" fill="#e3262b"/>
<circle cx="294.2" cy="313.8" r="1.9" fill="#fff" stroke="#c85560" stroke-width="1.1"/>
<text x="306.30" y="306.60" font-size="8.2" text-anchor="start" fill="#111" stroke="#111" stroke-width="0.22" font-weight="bold" font-family='"Liberation Sans", sans-serif'>Charge</text>
<text x="306.30" y="316.80" font-size="8.2" text-anchor="start" fill="#111" stroke="#111" stroke-width="0.22" font-weight="bold" font-family='"Liberation Sans", sans-serif'>Discharge</text>
</svg></body></html>
